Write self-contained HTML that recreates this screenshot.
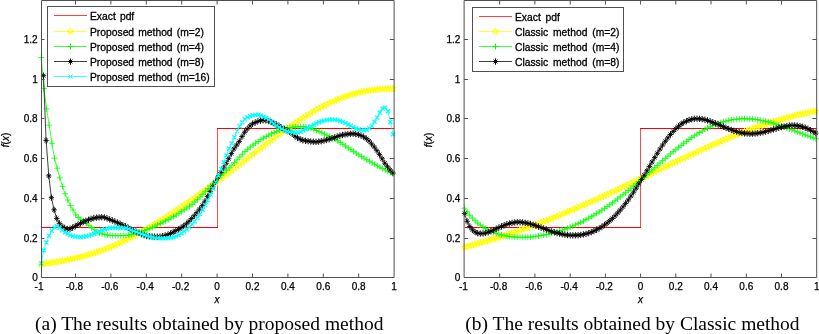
<!DOCTYPE html>
<html><head><meta charset="utf-8"><title>Figure</title>
<style>html,body{margin:0;padding:0;background:#fff;}svg{display:block;}</style>
</head><body>
<svg width="819" height="334" viewBox="0 0 819 334">
<rect width="819" height="334" fill="#fff"/>
<clipPath id="cl"><rect x="37.5" y="0" width="360.8" height="281.5"/></clipPath>
<g clip-path="url(#cl)">
<path d="M41.5 227.5H218.0M217.0 128.5H394.1" fill="none" stroke="#f00" stroke-width="1" shape-rendering="crispEdges"/><path d="M217.5 128V228" fill="none" stroke="#f00" stroke-opacity="0.7" stroke-width="1" shape-rendering="crispEdges"/>
<path d="M41.2 264.4L43.8 264.0L46.5 263.6L49.1 263.2L51.8 262.7L54.4 262.3L57.1 261.8L59.7 261.4L62.4 260.9L65.0 260.4L67.7 259.8L70.3 259.3L73.0 258.7L75.6 258.1L78.2 257.5L80.9 256.8L83.5 256.2L86.2 255.4L88.8 254.7L91.5 253.9L94.1 253.1L96.8 252.2L99.4 251.3L102.1 250.4L104.7 249.4L107.4 248.3L110.0 247.3L112.6 246.2L115.3 245.0L117.9 243.8L120.6 242.6L123.2 241.3L125.9 240.1L128.5 238.7L131.2 237.4L133.8 236.0L136.5 234.6L139.1 233.1L141.7 231.7L144.4 230.2L147.0 228.6L149.7 227.1L152.3 225.5L155.0 223.9L157.6 222.3L160.3 220.7L162.9 219.0L165.6 217.3L168.2 215.6L170.9 213.9L173.5 212.2L176.1 210.4L178.8 208.6L181.4 206.9L184.1 205.1L186.7 203.2L189.4 201.4L192.0 199.5L194.7 197.7L197.3 195.8L200.0 193.9L202.6 192.0L205.3 190.1L207.9 188.2L210.5 186.2L213.2 184.3L215.8 182.3L218.5 180.4L221.1 178.4L223.8 176.4L226.4 174.4L229.1 172.4L231.7 170.4L234.4 168.4L237.0 166.4L239.7 164.4L242.3 162.4L244.9 160.3L247.6 158.3L250.2 156.3L252.9 154.3L255.5 152.2L258.2 150.2L260.8 148.2L263.5 146.1L266.1 144.1L268.8 142.1L271.4 140.1L274.0 138.1L276.7 136.2L279.3 134.2L282.0 132.3L284.6 130.4L287.3 128.5L289.9 126.6L292.6 124.8L295.2 123.0L297.9 121.2L300.5 119.5L303.2 117.7L305.8 116.1L308.4 114.4L311.1 112.8L313.7 111.3L316.4 109.8L319.0 108.3L321.7 106.9L324.3 105.5L327.0 104.2L329.6 102.9L332.3 101.7L334.9 100.6L337.6 99.5L340.2 98.4L342.8 97.5L345.5 96.5L348.1 95.7L350.8 94.8L353.4 94.1L356.1 93.4L358.7 92.7L361.4 92.1L364.0 91.5L366.7 91.0L369.3 90.6L372.0 90.2L374.6 89.8L377.2 89.5L379.9 89.3L382.5 89.1L385.2 88.9L387.8 88.8L390.5 88.8L393.1 88.8" fill="none" stroke="#ff0" stroke-width="1" stroke-opacity="0.75"/>
<path d="M41.2 261.0L42.0 263.4L44.4 263.4L42.4 264.8L43.2 267.2L41.2 265.7L39.2 267.2L40.0 264.8L38.0 263.4L40.4 263.4ZM43.8 260.6L44.6 262.9L47.1 262.9L45.1 264.4L45.8 266.7L43.8 265.3L41.8 266.7L42.6 264.4L40.6 262.9L43.1 262.9ZM46.5 260.2L47.3 262.5L49.7 262.5L47.7 264.0L48.5 266.3L46.5 264.9L44.5 266.3L45.3 264.0L43.3 262.5L45.7 262.5ZM49.1 259.8L49.9 262.1L52.4 262.1L50.4 263.6L51.1 265.9L49.1 264.5L47.1 265.9L47.9 263.6L45.9 262.1L48.4 262.1ZM51.8 259.3L52.5 261.7L55.0 261.7L53.0 263.1L53.8 265.5L51.8 264.0L49.8 265.5L50.5 263.1L48.6 261.7L51.0 261.7ZM54.4 258.9L55.2 261.2L57.7 261.2L55.7 262.7L56.4 265.0L54.4 263.6L52.4 265.0L53.2 262.7L51.2 261.2L53.7 261.2ZM57.1 258.4L57.8 260.8L60.3 260.8L58.3 262.2L59.1 264.6L57.1 263.1L55.1 264.6L55.8 262.2L53.8 260.8L56.3 260.8ZM59.7 258.0L60.5 260.3L63.0 260.3L61.0 261.8L61.7 264.1L59.7 262.7L57.7 264.1L58.5 261.8L56.5 260.3L59.0 260.3ZM62.4 257.5L63.1 259.8L65.6 259.8L63.6 261.3L64.4 263.6L62.4 262.2L60.4 263.6L61.1 261.3L59.1 259.8L61.6 259.8ZM65.0 257.0L65.8 259.3L68.2 259.3L66.2 260.8L67.0 263.1L65.0 261.7L63.0 263.1L63.8 260.8L61.8 259.3L64.3 259.3ZM67.7 256.4L68.4 258.8L70.9 258.8L68.9 260.2L69.7 262.6L67.7 261.1L65.7 262.6L66.4 260.2L64.4 258.8L66.9 258.8ZM70.3 255.9L71.1 258.2L73.5 258.2L71.5 259.7L72.3 262.0L70.3 260.6L68.3 262.0L69.1 259.7L67.1 258.2L69.5 258.2ZM73.0 255.3L73.7 257.7L76.2 257.7L74.2 259.1L75.0 261.5L73.0 260.0L71.0 261.5L71.7 259.1L69.7 257.7L72.2 257.7ZM75.6 254.7L76.4 257.1L78.8 257.1L76.8 258.5L77.6 260.9L75.6 259.4L73.6 260.9L74.4 258.5L72.4 257.1L74.8 257.1ZM78.2 254.1L79.0 256.4L81.5 256.4L79.5 257.9L80.2 260.2L78.2 258.8L76.2 260.2L77.0 257.9L75.0 256.4L77.5 256.4ZM80.9 253.4L81.7 255.8L84.1 255.8L82.1 257.2L82.9 259.6L80.9 258.1L78.9 259.6L79.7 257.2L77.7 255.8L80.1 255.8ZM83.5 252.8L84.3 255.1L86.8 255.1L84.8 256.6L85.5 258.9L83.5 257.5L81.5 258.9L82.3 256.6L80.3 255.1L82.8 255.1ZM86.2 252.0L86.9 254.4L89.4 254.4L87.4 255.8L88.2 258.2L86.2 256.7L84.2 258.2L84.9 255.8L82.9 254.4L85.4 254.4ZM88.8 251.3L89.6 253.6L92.1 253.6L90.1 255.1L90.8 257.4L88.8 256.0L86.8 257.4L87.6 255.1L85.6 253.6L88.1 253.6ZM91.5 250.5L92.2 252.9L94.7 252.9L92.7 254.3L93.5 256.7L91.5 255.2L89.5 256.7L90.2 254.3L88.2 252.9L90.7 252.9ZM94.1 249.7L94.9 252.0L97.4 252.0L95.4 253.5L96.1 255.8L94.1 254.4L92.1 255.8L92.9 253.5L90.9 252.0L93.4 252.0ZM96.8 248.8L97.5 251.2L100.0 251.2L98.0 252.6L98.8 255.0L96.8 253.5L94.8 255.0L95.5 252.6L93.5 251.2L96.0 251.2ZM99.4 247.9L100.2 250.3L102.6 250.3L100.6 251.7L101.4 254.1L99.4 252.6L97.4 254.1L98.2 251.7L96.2 250.3L98.6 250.3ZM102.1 247.0L102.8 249.3L105.3 249.3L103.3 250.8L104.1 253.1L102.1 251.7L100.1 253.1L100.8 250.8L98.8 249.3L101.3 249.3ZM104.7 246.0L105.5 248.3L107.9 248.3L105.9 249.8L106.7 252.1L104.7 250.7L102.7 252.1L103.5 249.8L101.5 248.3L103.9 248.3ZM107.4 244.9L108.1 247.3L110.6 247.3L108.6 248.7L109.3 251.1L107.4 249.6L105.4 251.1L106.1 248.7L104.1 247.3L106.6 247.3ZM110.0 243.9L110.8 246.2L113.2 246.2L111.2 247.7L112.0 250.0L110.0 248.6L108.0 250.0L108.8 247.7L106.8 246.2L109.2 246.2ZM112.6 242.8L113.4 245.1L115.9 245.1L113.9 246.6L114.6 248.9L112.6 247.5L110.6 248.9L111.4 246.6L109.4 245.1L111.9 245.1ZM115.3 241.6L116.1 244.0L118.5 244.0L116.5 245.4L117.3 247.8L115.3 246.3L113.3 247.8L114.1 245.4L112.1 244.0L114.5 244.0ZM117.9 240.4L118.7 242.8L121.2 242.8L119.2 244.2L119.9 246.6L117.9 245.1L115.9 246.6L116.7 244.2L114.7 242.8L117.2 242.8ZM120.6 239.2L121.3 241.6L123.8 241.6L121.8 243.0L122.6 245.4L120.6 243.9L118.6 245.4L119.3 243.0L117.3 241.6L119.8 241.6ZM123.2 237.9L124.0 240.3L126.5 240.3L124.5 241.8L125.2 244.1L123.2 242.6L121.2 244.1L122.0 241.8L120.0 240.3L122.5 240.3ZM125.9 236.7L126.6 239.0L129.1 239.0L127.1 240.5L127.9 242.8L125.9 241.4L123.9 242.8L124.6 240.5L122.6 239.0L125.1 239.0ZM128.5 235.3L129.3 237.7L131.8 237.7L129.8 239.1L130.5 241.5L128.5 240.0L126.5 241.5L127.3 239.1L125.3 237.7L127.8 237.7ZM131.2 234.0L131.9 236.3L134.4 236.3L132.4 237.8L133.2 240.1L131.2 238.7L129.2 240.1L129.9 237.8L127.9 236.3L130.4 236.3ZM133.8 232.6L134.6 234.9L137.0 234.9L135.0 236.4L135.8 238.7L133.8 237.3L131.8 238.7L132.6 236.4L130.6 234.9L133.0 234.9ZM136.5 231.2L137.2 233.5L139.7 233.5L137.7 235.0L138.5 237.3L136.5 235.9L134.5 237.3L135.2 235.0L133.2 233.5L135.7 233.5ZM139.1 229.7L139.9 232.1L142.3 232.1L140.3 233.5L141.1 235.9L139.1 234.4L137.1 235.9L137.9 233.5L135.9 232.1L138.3 232.1ZM141.7 228.3L142.5 230.6L145.0 230.6L143.0 232.1L143.7 234.4L141.7 233.0L139.7 234.4L140.5 232.1L138.5 230.6L141.0 230.6ZM144.4 226.8L145.2 229.1L147.6 229.1L145.6 230.6L146.4 232.9L144.4 231.5L142.4 232.9L143.2 230.6L141.2 229.1L143.6 229.1ZM147.0 225.2L147.8 227.6L150.3 227.6L148.3 229.0L149.0 231.4L147.0 229.9L145.0 231.4L145.8 229.0L143.8 227.6L146.3 227.6ZM149.7 223.7L150.4 226.0L152.9 226.0L150.9 227.5L151.7 229.8L149.7 228.4L147.7 229.8L148.5 227.5L146.5 226.0L148.9 226.0ZM152.3 222.1L153.1 224.5L155.6 224.5L153.6 225.9L154.3 228.3L152.3 226.8L150.3 228.3L151.1 225.9L149.1 224.5L151.6 224.5ZM155.0 220.5L155.7 222.9L158.2 222.9L156.2 224.3L157.0 226.7L155.0 225.2L153.0 226.7L153.7 224.3L151.7 222.9L154.2 222.9ZM157.6 218.9L158.4 221.3L160.9 221.3L158.9 222.7L159.6 225.1L157.6 223.6L155.6 225.1L156.4 222.7L154.4 221.3L156.9 221.3ZM160.3 217.3L161.0 219.6L163.5 219.6L161.5 221.1L162.3 223.4L160.3 222.0L158.3 223.4L159.0 221.1L157.0 219.6L159.5 219.6ZM162.9 215.6L163.7 218.0L166.1 218.0L164.2 219.4L164.9 221.8L162.9 220.3L160.9 221.8L161.7 219.4L159.7 218.0L162.2 218.0ZM165.6 213.9L166.3 216.3L168.8 216.3L166.8 217.7L167.6 220.1L165.6 218.6L163.6 220.1L164.3 217.7L162.3 216.3L164.8 216.3ZM168.2 212.2L169.0 214.6L171.4 214.6L169.4 216.0L170.2 218.4L168.2 216.9L166.2 218.4L167.0 216.0L165.0 214.6L167.4 214.6ZM170.9 210.5L171.6 212.9L174.1 212.9L172.1 214.3L172.9 216.7L170.9 215.2L168.9 216.7L169.6 214.3L167.6 212.9L170.1 212.9ZM173.5 208.8L174.3 211.1L176.7 211.1L174.7 212.6L175.5 214.9L173.5 213.5L171.5 214.9L172.3 212.6L170.3 211.1L172.7 211.1ZM176.1 207.0L176.9 209.4L179.4 209.4L177.4 210.8L178.1 213.2L176.1 211.7L174.1 213.2L174.9 210.8L172.9 209.4L175.4 209.4ZM178.8 205.2L179.6 207.6L182.0 207.6L180.0 209.1L180.8 211.4L178.8 209.9L176.8 211.4L177.6 209.1L175.6 207.6L178.0 207.6ZM181.4 203.5L182.2 205.8L184.7 205.8L182.7 207.3L183.4 209.6L181.4 208.2L179.4 209.6L180.2 207.3L178.2 205.8L180.7 205.8ZM184.1 201.7L184.8 204.0L187.3 204.0L185.3 205.5L186.1 207.8L184.1 206.4L182.1 207.8L182.8 205.5L180.9 204.0L183.3 204.0ZM186.7 199.8L187.5 202.2L190.0 202.2L188.0 203.6L188.7 206.0L186.7 204.5L184.7 206.0L185.5 203.6L183.5 202.2L186.0 202.2ZM189.4 198.0L190.1 200.3L192.6 200.3L190.6 201.8L191.4 204.1L189.4 202.7L187.4 204.1L188.1 201.8L186.1 200.3L188.6 200.3ZM192.0 196.1L192.8 198.5L195.3 198.5L193.3 199.9L194.0 202.3L192.0 200.8L190.0 202.3L190.8 199.9L188.8 198.5L191.3 198.5ZM194.7 194.3L195.4 196.6L197.9 196.6L195.9 198.1L196.7 200.4L194.7 199.0L192.7 200.4L193.4 198.1L191.4 196.6L193.9 196.6ZM197.3 192.4L198.1 194.7L200.5 194.7L198.5 196.2L199.3 198.6L197.3 197.1L195.3 198.6L196.1 196.2L194.1 194.7L196.6 194.7ZM200.0 190.5L200.7 192.9L203.2 192.9L201.2 194.3L202.0 196.7L200.0 195.2L198.0 196.7L198.7 194.3L196.7 192.9L199.2 192.9ZM202.6 188.6L203.4 191.0L205.8 191.0L203.8 192.4L204.6 194.8L202.6 193.3L200.6 194.8L201.4 192.4L199.4 191.0L201.8 191.0ZM205.3 186.7L206.0 189.0L208.5 189.0L206.5 190.5L207.3 192.8L205.3 191.4L203.3 192.8L204.0 190.5L202.0 189.0L204.5 189.0ZM207.9 184.8L208.7 187.1L211.1 187.1L209.1 188.6L209.9 190.9L207.9 189.5L205.9 190.9L206.7 188.6L204.7 187.1L207.1 187.1ZM210.5 182.8L211.3 185.2L213.8 185.2L211.8 186.6L212.5 189.0L210.5 187.5L208.5 189.0L209.3 186.6L207.3 185.2L209.8 185.2ZM213.2 180.9L214.0 183.2L216.4 183.2L214.4 184.7L215.2 187.0L213.2 185.6L211.2 187.0L212.0 184.7L210.0 183.2L212.4 183.2ZM215.8 178.9L216.6 181.3L219.1 181.3L217.1 182.7L217.8 185.1L215.8 183.6L213.8 185.1L214.6 182.7L212.6 181.3L215.1 181.3ZM218.5 177.0L219.2 179.3L221.7 179.3L219.7 180.8L220.5 183.1L218.5 181.7L216.5 183.1L217.2 180.8L215.2 179.3L217.7 179.3ZM221.1 175.0L221.9 177.3L224.4 177.3L222.4 178.8L223.1 181.1L221.1 179.7L219.1 181.1L219.9 178.8L217.9 177.3L220.4 177.3ZM223.8 173.0L224.5 175.3L227.0 175.3L225.0 176.8L225.8 179.1L223.8 177.7L221.8 179.1L222.5 176.8L220.5 175.3L223.0 175.3ZM226.4 171.0L227.2 173.4L229.7 173.4L227.7 174.8L228.4 177.2L226.4 175.7L224.4 177.2L225.2 174.8L223.2 173.4L225.7 173.4ZM229.1 169.0L229.8 171.4L232.3 171.4L230.3 172.8L231.1 175.2L229.1 173.7L227.1 175.2L227.8 172.8L225.8 171.4L228.3 171.4ZM231.7 167.0L232.5 169.4L234.9 169.4L232.9 170.8L233.7 173.2L231.7 171.7L229.7 173.2L230.5 170.8L228.5 169.4L230.9 169.4ZM234.4 165.0L235.1 167.4L237.6 167.4L235.6 168.8L236.4 171.2L234.4 169.7L232.4 171.2L233.1 168.8L231.1 167.4L233.6 167.4ZM237.0 163.0L237.8 165.3L240.2 165.3L238.2 166.8L239.0 169.1L237.0 167.7L235.0 169.1L235.8 166.8L233.8 165.3L236.2 165.3ZM239.7 161.0L240.4 163.3L242.9 163.3L240.9 164.8L241.6 167.1L239.7 165.7L237.7 167.1L238.4 164.8L236.4 163.3L238.9 163.3ZM242.3 159.0L243.1 161.3L245.5 161.3L243.5 162.8L244.3 165.1L242.3 163.7L240.3 165.1L241.1 162.8L239.1 161.3L241.5 161.3ZM244.9 156.9L245.7 159.3L248.2 159.3L246.2 160.7L246.9 163.1L244.9 161.6L242.9 163.1L243.7 160.7L241.7 159.3L244.2 159.3ZM247.6 154.9L248.4 157.3L250.8 157.3L248.8 158.7L249.6 161.1L247.6 159.6L245.6 161.1L246.4 158.7L244.4 157.3L246.8 157.3ZM250.2 152.9L251.0 155.2L253.5 155.2L251.5 156.7L252.2 159.0L250.2 157.6L248.2 159.0L249.0 156.7L247.0 155.2L249.5 155.2ZM252.9 150.9L253.6 153.2L256.1 153.2L254.1 154.7L254.9 157.0L252.9 155.6L250.9 157.0L251.6 154.7L249.6 153.2L252.1 153.2ZM255.5 148.8L256.3 151.2L258.8 151.2L256.8 152.6L257.5 155.0L255.5 153.5L253.5 155.0L254.3 152.6L252.3 151.2L254.8 151.2ZM258.2 146.8L258.9 149.1L261.4 149.1L259.4 150.6L260.2 152.9L258.2 151.5L256.2 152.9L256.9 150.6L254.9 149.1L257.4 149.1ZM260.8 144.8L261.6 147.1L264.1 147.1L262.1 148.6L262.8 150.9L260.8 149.5L258.8 150.9L259.6 148.6L257.6 147.1L260.1 147.1ZM263.5 142.7L264.2 145.1L266.7 145.1L264.7 146.5L265.5 148.9L263.5 147.4L261.5 148.9L262.2 146.5L260.2 145.1L262.7 145.1ZM266.1 140.7L266.9 143.1L269.3 143.1L267.3 144.5L268.1 146.9L266.1 145.4L264.1 146.9L264.9 144.5L262.9 143.1L265.3 143.1ZM268.8 138.7L269.5 141.1L272.0 141.1L270.0 142.5L270.8 144.9L268.8 143.4L266.8 144.9L267.5 142.5L265.5 141.1L268.0 141.1ZM271.4 136.7L272.2 139.1L274.6 139.1L272.6 140.5L273.4 142.9L271.4 141.4L269.4 142.9L270.2 140.5L268.2 139.1L270.6 139.1ZM274.0 134.7L274.8 137.1L277.3 137.1L275.3 138.6L276.0 140.9L274.0 139.4L272.0 140.9L272.8 138.6L270.8 137.1L273.3 137.1ZM276.7 132.8L277.5 135.1L279.9 135.1L277.9 136.6L278.7 138.9L276.7 137.5L274.7 138.9L275.5 136.6L273.5 135.1L275.9 135.1ZM279.3 130.8L280.1 133.2L282.6 133.2L280.6 134.6L281.3 137.0L279.3 135.5L277.3 137.0L278.1 134.6L276.1 133.2L278.6 133.2ZM282.0 128.9L282.7 131.2L285.2 131.2L283.2 132.7L284.0 135.0L282.0 133.6L280.0 135.0L280.8 132.7L278.8 131.2L281.2 131.2ZM284.6 127.0L285.4 129.3L287.9 129.3L285.9 130.8L286.6 133.1L284.6 131.7L282.6 133.1L283.4 130.8L281.4 129.3L283.9 129.3ZM287.3 125.1L288.0 127.4L290.5 127.4L288.5 128.9L289.3 131.2L287.3 129.8L285.3 131.2L286.0 128.9L284.0 127.4L286.5 127.4ZM289.9 123.2L290.7 125.6L293.2 125.6L291.2 127.0L291.9 129.4L289.9 127.9L287.9 129.4L288.7 127.0L286.7 125.6L289.2 125.6ZM292.6 121.4L293.3 123.7L295.8 123.7L293.8 125.2L294.6 127.5L292.6 126.1L290.6 127.5L291.3 125.2L289.3 123.7L291.8 123.7ZM295.2 119.6L296.0 121.9L298.4 121.9L296.5 123.4L297.2 125.7L295.2 124.3L293.2 125.7L294.0 123.4L292.0 121.9L294.5 121.9ZM297.9 117.8L298.6 120.2L301.1 120.2L299.1 121.6L299.9 124.0L297.9 122.5L295.9 124.0L296.6 121.6L294.6 120.2L297.1 120.2ZM300.5 116.1L301.3 118.4L303.7 118.4L301.7 119.9L302.5 122.2L300.5 120.8L298.5 122.2L299.3 119.9L297.3 118.4L299.7 118.4ZM303.2 114.3L303.9 116.7L306.4 116.7L304.4 118.1L305.2 120.5L303.2 119.0L301.2 120.5L301.9 118.1L299.9 116.7L302.4 116.7ZM305.8 112.7L306.6 115.0L309.0 115.0L307.0 116.5L307.8 118.8L305.8 117.4L303.8 118.8L304.6 116.5L302.6 115.0L305.0 115.0ZM308.4 111.0L309.2 113.4L311.7 113.4L309.7 114.8L310.4 117.2L308.4 115.7L306.4 117.2L307.2 114.8L305.2 113.4L307.7 113.4ZM311.1 109.4L311.9 111.8L314.3 111.8L312.3 113.2L313.1 115.6L311.1 114.1L309.1 115.6L309.9 113.2L307.9 111.8L310.3 111.8ZM313.7 107.9L314.5 110.2L317.0 110.2L315.0 111.7L315.7 114.0L313.7 112.6L311.7 114.0L312.5 111.7L310.5 110.2L313.0 110.2ZM316.4 106.4L317.1 108.7L319.6 108.7L317.6 110.2L318.4 112.5L316.4 111.1L314.4 112.5L315.1 110.2L313.2 108.7L315.6 108.7ZM319.0 104.9L319.8 107.2L322.3 107.2L320.3 108.7L321.0 111.0L319.0 109.6L317.0 111.0L317.8 108.7L315.8 107.2L318.3 107.2ZM321.7 103.5L322.4 105.8L324.9 105.8L322.9 107.3L323.7 109.6L321.7 108.2L319.7 109.6L320.4 107.3L318.4 105.8L320.9 105.8ZM324.3 102.1L325.1 104.5L327.6 104.5L325.6 105.9L326.3 108.3L324.3 106.8L322.3 108.3L323.1 105.9L321.1 104.5L323.6 104.5ZM327.0 100.8L327.7 103.1L330.2 103.1L328.2 104.6L329.0 106.9L327.0 105.5L325.0 106.9L325.7 104.6L323.7 103.1L326.2 103.1ZM329.6 99.5L330.4 101.9L332.8 101.9L330.8 103.3L331.6 105.7L329.6 104.2L327.6 105.7L328.4 103.3L326.4 101.9L328.9 101.9ZM332.3 98.3L333.0 100.7L335.5 100.7L333.5 102.1L334.3 104.5L332.3 103.0L330.3 104.5L331.0 102.1L329.0 100.7L331.5 100.7ZM334.9 97.2L335.7 99.5L338.1 99.5L336.1 101.0L336.9 103.3L334.9 101.9L332.9 103.3L333.7 101.0L331.7 99.5L334.1 99.5ZM337.6 96.1L338.3 98.4L340.8 98.4L338.8 99.9L339.6 102.2L337.6 100.8L335.6 102.2L336.3 99.9L334.3 98.4L336.8 98.4ZM340.2 95.0L341.0 97.4L343.4 97.4L341.4 98.8L342.2 101.2L340.2 99.7L338.2 101.2L339.0 98.8L337.0 97.4L339.4 97.4ZM342.8 94.1L343.6 96.4L346.1 96.4L344.1 97.9L344.8 100.2L342.8 98.8L340.8 100.2L341.6 97.9L339.6 96.4L342.1 96.4ZM345.5 93.1L346.3 95.5L348.7 95.5L346.7 96.9L347.5 99.3L345.5 97.8L343.5 99.3L344.3 96.9L342.3 95.5L344.7 95.5ZM348.1 92.3L348.9 94.6L351.4 94.6L349.4 96.1L350.1 98.4L348.1 96.9L346.1 98.4L346.9 96.1L344.9 94.6L347.4 94.6ZM350.8 91.4L351.5 93.8L354.0 93.8L352.0 95.2L352.8 97.6L350.8 96.1L348.8 97.6L349.5 95.2L347.5 93.8L350.0 93.8ZM353.4 90.7L354.2 93.0L356.7 93.0L354.7 94.5L355.4 96.8L353.4 95.4L351.4 96.8L352.2 94.5L350.2 93.0L352.7 93.0ZM356.1 90.0L356.8 92.3L359.3 92.3L357.3 93.8L358.1 96.1L356.1 94.7L354.1 96.1L354.8 93.8L352.8 92.3L355.3 92.3ZM358.7 89.3L359.5 91.6L362.0 91.6L360.0 93.1L360.7 95.4L358.7 94.0L356.7 95.4L357.5 93.1L355.5 91.6L358.0 91.6ZM361.4 88.7L362.1 91.0L364.6 91.0L362.6 92.5L363.4 94.8L361.4 93.4L359.4 94.8L360.1 92.5L358.1 91.0L360.6 91.0ZM364.0 88.1L364.8 90.5L367.2 90.5L365.2 91.9L366.0 94.3L364.0 92.8L362.0 94.3L362.8 91.9L360.8 90.5L363.2 90.5ZM366.7 87.6L367.4 90.0L369.9 90.0L367.9 91.4L368.7 93.8L366.7 92.3L364.7 93.8L365.4 91.4L363.4 90.0L365.9 90.0ZM369.3 87.2L370.1 89.5L372.5 89.5L370.5 91.0L371.3 93.3L369.3 91.9L367.3 93.3L368.1 91.0L366.1 89.5L368.5 89.5ZM372.0 86.8L372.7 89.1L375.2 89.1L373.2 90.6L373.9 92.9L372.0 91.5L370.0 92.9L370.7 90.6L368.7 89.1L371.2 89.1ZM374.6 86.4L375.4 88.8L377.8 88.8L375.8 90.2L376.6 92.6L374.6 91.1L372.6 92.6L373.4 90.2L371.4 88.8L373.8 88.8ZM377.2 86.1L378.0 88.5L380.5 88.5L378.5 89.9L379.2 92.3L377.2 90.8L375.2 92.3L376.0 89.9L374.0 88.5L376.5 88.5ZM379.9 85.9L380.7 88.2L383.1 88.2L381.1 89.7L381.9 92.0L379.9 90.6L377.9 92.0L378.7 89.7L376.7 88.2L379.1 88.2ZM382.5 85.7L383.3 88.0L385.8 88.0L383.8 89.5L384.5 91.8L382.5 90.4L380.5 91.8L381.3 89.5L379.3 88.0L381.8 88.0ZM385.2 85.5L385.9 87.9L388.4 87.9L386.4 89.3L387.2 91.7L385.2 90.2L383.2 91.7L383.9 89.3L381.9 87.9L384.4 87.9ZM387.8 85.4L388.6 87.8L391.1 87.8L389.1 89.2L389.8 91.6L387.8 90.1L385.8 91.6L386.6 89.2L384.6 87.8L387.1 87.8ZM390.5 85.4L391.2 87.7L393.7 87.7L391.7 89.2L392.5 91.5L390.5 90.1L388.5 91.5L389.2 89.2L387.2 87.7L389.7 87.7ZM393.1 85.4L393.9 87.7L396.4 87.7L394.4 89.2L395.1 91.5L393.1 90.1L391.1 91.5L391.9 89.2L389.9 87.7L392.4 87.7Z" fill="none" stroke="#ff0" stroke-width="1"/>
<path d="M41.3 57.5L43.9 88.6L46.6 108.9L49.2 125.2L51.9 143.3L54.5 158.2L57.2 168.2L59.8 177.9L62.5 186.4L65.1 193.8L67.8 200.0L70.4 205.6L73.1 210.1L75.7 214.8L78.3 217.5L81.0 219.3L83.6 221.2L86.3 223.4L88.9 225.6L91.6 227.6L94.2 229.6L96.9 231.6L99.5 233.0L102.2 233.9L104.8 234.6L107.5 235.1L110.1 235.4L112.7 235.5L115.4 235.6L118.0 235.6L120.7 235.6L123.3 235.5L126.0 235.4L128.6 235.1L131.3 234.6L133.9 233.9L136.6 233.2L139.2 232.4L141.8 231.6L144.5 230.6L147.1 229.6L149.8 228.5L152.4 227.3L155.1 226.1L157.7 224.8L160.4 223.5L163.0 222.2L165.7 220.8L168.3 219.5L171.0 218.0L173.6 216.5L176.2 215.0L178.9 213.3L181.5 211.7L184.2 209.9L186.8 208.1L189.5 206.2L192.1 204.3L194.8 202.1L197.4 199.7L200.1 197.0L202.7 194.1L205.4 191.3L208.0 188.6L210.6 185.9L213.3 183.2L215.9 180.6L218.6 177.9L221.2 175.4L223.9 172.8L226.5 170.3L229.2 167.8L231.8 165.2L234.5 162.6L237.1 159.9L239.8 157.0L242.4 154.2L245.0 151.6L247.7 149.3L250.3 147.1L253.0 145.1L255.6 143.2L258.3 141.5L260.9 139.7L263.6 138.1L266.2 136.5L268.9 135.1L271.5 133.7L274.1 132.5L276.8 131.3L279.4 130.3L282.1 129.4L284.7 128.7L287.4 128.1L290.0 127.7L292.7 127.3L295.3 127.0L298.0 126.7L300.6 126.6L303.3 126.7L305.9 127.2L308.5 127.8L311.2 128.5L313.8 129.4L316.5 130.5L319.1 131.6L321.8 132.8L324.4 134.0L327.1 135.3L329.7 136.6L332.4 137.9L335.0 139.3L337.7 140.8L340.3 142.4L342.9 144.3L345.6 146.1L348.2 147.9L350.9 149.7L353.5 151.4L356.2 153.1L358.8 154.8L361.5 156.5L364.1 158.1L366.8 159.7L369.4 161.2L372.1 162.8L374.7 164.3L377.3 165.8L380.0 167.2L382.6 168.5L385.3 169.9L387.9 171.2L390.6 172.5L393.2 173.8" fill="none" stroke="#0f0" stroke-width="1" stroke-opacity="0.75"/>
<path d="M38.3 57.5h6.0M41.3 54.5v6.0M40.9 88.6h6.0M43.9 85.6v6.0M43.6 108.9h6.0M46.6 105.9v6.0M46.2 125.2h6.0M49.2 122.2v6.0M48.9 143.3h6.0M51.9 140.3v6.0M51.5 158.2h6.0M54.5 155.2v6.0M54.2 168.2h6.0M57.2 165.2v6.0M56.8 177.9h6.0M59.8 174.9v6.0M59.5 186.4h6.0M62.5 183.4v6.0M62.1 193.8h6.0M65.1 190.8v6.0M64.8 200.0h6.0M67.8 197.0v6.0M67.4 205.6h6.0M70.4 202.6v6.0M70.1 210.1h6.0M73.1 207.1v6.0M72.7 214.8h6.0M75.7 211.8v6.0M75.3 217.5h6.0M78.3 214.5v6.0M78.0 219.3h6.0M81.0 216.3v6.0M80.6 221.2h6.0M83.6 218.2v6.0M83.3 223.4h6.0M86.3 220.4v6.0M85.9 225.6h6.0M88.9 222.6v6.0M88.6 227.6h6.0M91.6 224.6v6.0M91.2 229.6h6.0M94.2 226.6v6.0M93.9 231.6h6.0M96.9 228.6v6.0M96.5 233.0h6.0M99.5 230.0v6.0M99.2 233.9h6.0M102.2 230.9v6.0M101.8 234.6h6.0M104.8 231.6v6.0M104.5 235.1h6.0M107.5 232.1v6.0M107.1 235.4h6.0M110.1 232.4v6.0M109.7 235.5h6.0M112.7 232.5v6.0M112.4 235.6h6.0M115.4 232.6v6.0M115.0 235.6h6.0M118.0 232.6v6.0M117.7 235.6h6.0M120.7 232.6v6.0M120.3 235.5h6.0M123.3 232.5v6.0M123.0 235.4h6.0M126.0 232.4v6.0M125.6 235.1h6.0M128.6 232.1v6.0M128.3 234.6h6.0M131.3 231.6v6.0M130.9 233.9h6.0M133.9 230.9v6.0M133.6 233.2h6.0M136.6 230.2v6.0M136.2 232.4h6.0M139.2 229.4v6.0M138.8 231.6h6.0M141.8 228.6v6.0M141.5 230.6h6.0M144.5 227.6v6.0M144.1 229.6h6.0M147.1 226.6v6.0M146.8 228.5h6.0M149.8 225.5v6.0M149.4 227.3h6.0M152.4 224.3v6.0M152.1 226.1h6.0M155.1 223.1v6.0M154.7 224.8h6.0M157.7 221.8v6.0M157.4 223.5h6.0M160.4 220.5v6.0M160.0 222.2h6.0M163.0 219.2v6.0M162.7 220.8h6.0M165.7 217.8v6.0M165.3 219.5h6.0M168.3 216.5v6.0M168.0 218.0h6.0M171.0 215.0v6.0M170.6 216.5h6.0M173.6 213.5v6.0M173.2 215.0h6.0M176.2 212.0v6.0M175.9 213.3h6.0M178.9 210.3v6.0M178.5 211.7h6.0M181.5 208.7v6.0M181.2 209.9h6.0M184.2 206.9v6.0M183.8 208.1h6.0M186.8 205.1v6.0M186.5 206.2h6.0M189.5 203.2v6.0M189.1 204.3h6.0M192.1 201.3v6.0M191.8 202.1h6.0M194.8 199.1v6.0M194.4 199.7h6.0M197.4 196.7v6.0M197.1 197.0h6.0M200.1 194.0v6.0M199.7 194.1h6.0M202.7 191.1v6.0M202.4 191.3h6.0M205.4 188.3v6.0M205.0 188.6h6.0M208.0 185.6v6.0M207.6 185.9h6.0M210.6 182.9v6.0M210.3 183.2h6.0M213.3 180.2v6.0M212.9 180.6h6.0M215.9 177.6v6.0M215.6 177.9h6.0M218.6 174.9v6.0M218.2 175.4h6.0M221.2 172.4v6.0M220.9 172.8h6.0M223.9 169.8v6.0M223.5 170.3h6.0M226.5 167.3v6.0M226.2 167.8h6.0M229.2 164.8v6.0M228.8 165.2h6.0M231.8 162.2v6.0M231.5 162.6h6.0M234.5 159.6v6.0M234.1 159.9h6.0M237.1 156.9v6.0M236.8 157.0h6.0M239.8 154.0v6.0M239.4 154.2h6.0M242.4 151.2v6.0M242.0 151.6h6.0M245.0 148.6v6.0M244.7 149.3h6.0M247.7 146.3v6.0M247.3 147.1h6.0M250.3 144.1v6.0M250.0 145.1h6.0M253.0 142.1v6.0M252.6 143.2h6.0M255.6 140.2v6.0M255.3 141.5h6.0M258.3 138.5v6.0M257.9 139.7h6.0M260.9 136.7v6.0M260.6 138.1h6.0M263.6 135.1v6.0M263.2 136.5h6.0M266.2 133.5v6.0M265.9 135.1h6.0M268.9 132.1v6.0M268.5 133.7h6.0M271.5 130.7v6.0M271.1 132.5h6.0M274.1 129.5v6.0M273.8 131.3h6.0M276.8 128.3v6.0M276.4 130.3h6.0M279.4 127.3v6.0M279.1 129.4h6.0M282.1 126.4v6.0M281.7 128.7h6.0M284.7 125.7v6.0M284.4 128.1h6.0M287.4 125.1v6.0M287.0 127.7h6.0M290.0 124.7v6.0M289.7 127.3h6.0M292.7 124.3v6.0M292.3 127.0h6.0M295.3 124.0v6.0M295.0 126.7h6.0M298.0 123.7v6.0M297.6 126.6h6.0M300.6 123.6v6.0M300.3 126.7h6.0M303.3 123.7v6.0M302.9 127.2h6.0M305.9 124.2v6.0M305.5 127.8h6.0M308.5 124.8v6.0M308.2 128.5h6.0M311.2 125.5v6.0M310.8 129.4h6.0M313.8 126.4v6.0M313.5 130.5h6.0M316.5 127.5v6.0M316.1 131.6h6.0M319.1 128.6v6.0M318.8 132.8h6.0M321.8 129.8v6.0M321.4 134.0h6.0M324.4 131.0v6.0M324.1 135.3h6.0M327.1 132.3v6.0M326.7 136.6h6.0M329.7 133.6v6.0M329.4 137.9h6.0M332.4 134.9v6.0M332.0 139.3h6.0M335.0 136.3v6.0M334.7 140.8h6.0M337.7 137.8v6.0M337.3 142.4h6.0M340.3 139.4v6.0M339.9 144.3h6.0M342.9 141.3v6.0M342.6 146.1h6.0M345.6 143.1v6.0M345.2 147.9h6.0M348.2 144.9v6.0M347.9 149.7h6.0M350.9 146.7v6.0M350.5 151.4h6.0M353.5 148.4v6.0M353.2 153.1h6.0M356.2 150.1v6.0M355.8 154.8h6.0M358.8 151.8v6.0M358.5 156.5h6.0M361.5 153.5v6.0M361.1 158.1h6.0M364.1 155.1v6.0M363.8 159.7h6.0M366.8 156.7v6.0M366.4 161.2h6.0M369.4 158.2v6.0M369.1 162.8h6.0M372.1 159.8v6.0M371.7 164.3h6.0M374.7 161.3v6.0M374.3 165.8h6.0M377.3 162.8v6.0M377.0 167.2h6.0M380.0 164.2v6.0M379.6 168.5h6.0M382.6 165.5v6.0M382.3 169.9h6.0M385.3 166.9v6.0M384.9 171.2h6.0M387.9 168.2v6.0M387.6 172.5h6.0M390.6 169.5v6.0M390.2 173.8h6.0M393.2 170.8v6.0" fill="none" stroke="#0f0" stroke-width="0.8"/>
<path d="M43.5 75.7L46.1 140.4L48.8 175.9L51.4 197.7L54.1 209.8L56.7 218.4L59.4 223.3L62.0 226.3L64.7 228.0L67.3 229.1L70.0 228.9L72.6 227.6L75.3 226.1L77.9 224.8L80.5 223.4L83.2 222.0L85.8 220.9L88.5 219.8L91.1 218.9L93.8 218.1L96.4 217.7L99.1 217.4L101.7 217.2L104.4 217.4L107.0 218.3L109.7 219.4L112.3 220.4L114.9 221.5L117.6 222.7L120.2 223.9L122.9 225.2L125.5 226.4L128.2 227.8L130.8 229.2L133.5 230.6L136.1 231.8L138.8 232.9L141.4 234.1L144.0 235.2L146.7 236.0L149.3 236.3L152.0 236.5L154.6 236.6L157.3 236.7L159.9 236.7L162.6 236.2L165.2 235.5L167.9 234.7L170.5 233.5L173.2 232.1L175.8 230.7L178.4 229.3L181.1 227.8L183.7 226.0L186.4 223.8L189.0 221.3L191.7 218.6L194.3 215.7L197.0 212.5L199.6 209.1L202.3 205.4L204.9 201.3L207.6 196.6L210.2 191.6L212.8 186.7L215.5 181.8L218.1 177.0L220.8 172.4L223.4 167.9L226.1 163.3L228.7 158.7L231.4 153.6L234.0 148.9L236.7 145.1L239.3 141.4L242.0 136.6L244.6 132.3L247.2 129.0L249.9 126.0L252.5 123.8L255.2 122.5L257.8 121.4L260.5 120.6L263.1 120.2L265.8 120.4L268.4 121.1L271.1 122.0L273.7 123.0L276.3 124.4L279.0 126.0L281.6 127.6L284.3 129.0L286.9 130.3L289.6 131.9L292.2 133.7L294.9 136.1L297.5 137.8L300.2 139.2L302.8 140.3L305.5 140.8L308.1 141.2L310.7 141.5L313.4 141.7L316.0 141.8L318.7 141.6L321.3 141.2L324.0 140.6L326.6 140.0L329.3 139.1L331.9 138.2L334.6 137.4L337.2 136.5L339.9 135.6L342.5 135.0L345.1 134.5L347.8 134.1L350.4 133.8L353.1 133.7L355.7 134.0L358.4 134.7L361.0 135.5L363.7 136.8L366.3 138.6L369.0 140.9L371.6 143.9L374.3 147.1L376.9 150.7L379.5 154.6L382.2 158.8L384.8 163.2L387.5 166.8L390.1 170.0L392.8 172.9" fill="none" stroke="#000" stroke-width="1" stroke-opacity="0.75"/>
<path d="M40.8 75.7h5.4M43.5 72.5v6.4M41.6 73.8l3.8 3.8M41.6 77.6l3.8 -3.8M43.4 140.4h5.4M46.1 137.2v6.4M44.2 138.5l3.8 3.8M44.2 142.3l3.8 -3.8M46.1 175.9h5.4M48.8 172.7v6.4M46.9 174.0l3.8 3.8M46.9 177.8l3.8 -3.8M48.7 197.7h5.4M51.4 194.5v6.4M49.5 195.8l3.8 3.8M49.5 199.6l3.8 -3.8M51.4 209.8h5.4M54.1 206.6v6.4M52.2 207.9l3.8 3.8M52.2 211.7l3.8 -3.8M54.0 218.4h5.4M56.7 215.2v6.4M54.8 216.5l3.8 3.8M54.8 220.3l3.8 -3.8M56.7 223.3h5.4M59.4 220.1v6.4M57.5 221.4l3.8 3.8M57.5 225.2l3.8 -3.8M59.3 226.3h5.4M62.0 223.1v6.4M60.1 224.4l3.8 3.8M60.1 228.2l3.8 -3.8M62.0 228.0h5.4M64.7 224.8v6.4M62.8 226.1l3.8 3.8M62.8 229.9l3.8 -3.8M64.6 229.1h5.4M67.3 225.9v6.4M65.4 227.2l3.8 3.8M65.4 231.0l3.8 -3.8M67.3 228.9h5.4M70.0 225.7v6.4M68.1 227.0l3.8 3.8M68.1 230.8l3.8 -3.8M69.9 227.6h5.4M72.6 224.4v6.4M70.7 225.7l3.8 3.8M70.7 229.5l3.8 -3.8M72.6 226.1h5.4M75.3 222.9v6.4M73.4 224.2l3.8 3.8M73.4 228.0l3.8 -3.8M75.2 224.8h5.4M77.9 221.6v6.4M76.0 222.9l3.8 3.8M76.0 226.7l3.8 -3.8M77.8 223.4h5.4M80.5 220.2v6.4M78.6 221.5l3.8 3.8M78.6 225.3l3.8 -3.8M80.5 222.0h5.4M83.2 218.8v6.4M81.3 220.1l3.8 3.8M81.3 223.9l3.8 -3.8M83.1 220.9h5.4M85.8 217.7v6.4M83.9 219.0l3.8 3.8M83.9 222.8l3.8 -3.8M85.8 219.8h5.4M88.5 216.6v6.4M86.6 217.9l3.8 3.8M86.6 221.7l3.8 -3.8M88.4 218.9h5.4M91.1 215.7v6.4M89.2 217.0l3.8 3.8M89.2 220.8l3.8 -3.8M91.1 218.1h5.4M93.8 214.9v6.4M91.9 216.2l3.8 3.8M91.9 220.0l3.8 -3.8M93.7 217.7h5.4M96.4 214.5v6.4M94.5 215.8l3.8 3.8M94.5 219.6l3.8 -3.8M96.4 217.4h5.4M99.1 214.2v6.4M97.2 215.5l3.8 3.8M97.2 219.3l3.8 -3.8M99.0 217.2h5.4M101.7 214.0v6.4M99.8 215.3l3.8 3.8M99.8 219.1l3.8 -3.8M101.7 217.4h5.4M104.4 214.2v6.4M102.5 215.5l3.8 3.8M102.5 219.3l3.8 -3.8M104.3 218.3h5.4M107.0 215.1v6.4M105.1 216.4l3.8 3.8M105.1 220.2l3.8 -3.8M107.0 219.4h5.4M109.7 216.2v6.4M107.8 217.5l3.8 3.8M107.8 221.3l3.8 -3.8M109.6 220.4h5.4M112.3 217.2v6.4M110.4 218.5l3.8 3.8M110.4 222.3l3.8 -3.8M112.2 221.5h5.4M114.9 218.3v6.4M113.0 219.6l3.8 3.8M113.0 223.4l3.8 -3.8M114.9 222.7h5.4M117.6 219.5v6.4M115.7 220.8l3.8 3.8M115.7 224.6l3.8 -3.8M117.5 223.9h5.4M120.2 220.7v6.4M118.3 222.0l3.8 3.8M118.3 225.8l3.8 -3.8M120.2 225.2h5.4M122.9 222.0v6.4M121.0 223.3l3.8 3.8M121.0 227.1l3.8 -3.8M122.8 226.4h5.4M125.5 223.2v6.4M123.6 224.5l3.8 3.8M123.6 228.3l3.8 -3.8M125.5 227.8h5.4M128.2 224.6v6.4M126.3 225.9l3.8 3.8M126.3 229.7l3.8 -3.8M128.1 229.2h5.4M130.8 226.0v6.4M128.9 227.3l3.8 3.8M128.9 231.1l3.8 -3.8M130.8 230.6h5.4M133.5 227.4v6.4M131.6 228.7l3.8 3.8M131.6 232.5l3.8 -3.8M133.4 231.8h5.4M136.1 228.6v6.4M134.2 229.9l3.8 3.8M134.2 233.7l3.8 -3.8M136.1 232.9h5.4M138.8 229.7v6.4M136.9 231.0l3.8 3.8M136.9 234.8l3.8 -3.8M138.7 234.1h5.4M141.4 230.9v6.4M139.5 232.2l3.8 3.8M139.5 236.0l3.8 -3.8M141.3 235.2h5.4M144.0 232.0v6.4M142.1 233.3l3.8 3.8M142.1 237.1l3.8 -3.8M144.0 236.0h5.4M146.7 232.8v6.4M144.8 234.1l3.8 3.8M144.8 237.9l3.8 -3.8M146.6 236.3h5.4M149.3 233.1v6.4M147.4 234.4l3.8 3.8M147.4 238.2l3.8 -3.8M149.3 236.5h5.4M152.0 233.3v6.4M150.1 234.6l3.8 3.8M150.1 238.4l3.8 -3.8M151.9 236.6h5.4M154.6 233.4v6.4M152.7 234.7l3.8 3.8M152.7 238.5l3.8 -3.8M154.6 236.7h5.4M157.3 233.5v6.4M155.4 234.8l3.8 3.8M155.4 238.6l3.8 -3.8M157.2 236.7h5.4M159.9 233.5v6.4M158.0 234.8l3.8 3.8M158.0 238.6l3.8 -3.8M159.9 236.2h5.4M162.6 233.0v6.4M160.7 234.3l3.8 3.8M160.7 238.1l3.8 -3.8M162.5 235.5h5.4M165.2 232.3v6.4M163.3 233.6l3.8 3.8M163.3 237.4l3.8 -3.8M165.2 234.7h5.4M167.9 231.5v6.4M166.0 232.8l3.8 3.8M166.0 236.6l3.8 -3.8M167.8 233.5h5.4M170.5 230.3v6.4M168.6 231.6l3.8 3.8M168.6 235.4l3.8 -3.8M170.5 232.1h5.4M173.2 228.9v6.4M171.3 230.2l3.8 3.8M171.3 234.0l3.8 -3.8M173.1 230.7h5.4M175.8 227.5v6.4M173.9 228.8l3.8 3.8M173.9 232.6l3.8 -3.8M175.7 229.3h5.4M178.4 226.1v6.4M176.5 227.4l3.8 3.8M176.5 231.2l3.8 -3.8M178.4 227.8h5.4M181.1 224.6v6.4M179.2 225.9l3.8 3.8M179.2 229.7l3.8 -3.8M181.0 226.0h5.4M183.7 222.8v6.4M181.8 224.1l3.8 3.8M181.8 227.9l3.8 -3.8M183.7 223.8h5.4M186.4 220.6v6.4M184.5 221.9l3.8 3.8M184.5 225.7l3.8 -3.8M186.3 221.3h5.4M189.0 218.1v6.4M187.1 219.4l3.8 3.8M187.1 223.2l3.8 -3.8M189.0 218.6h5.4M191.7 215.4v6.4M189.8 216.7l3.8 3.8M189.8 220.5l3.8 -3.8M191.6 215.7h5.4M194.3 212.5v6.4M192.4 213.8l3.8 3.8M192.4 217.6l3.8 -3.8M194.3 212.5h5.4M197.0 209.3v6.4M195.1 210.6l3.8 3.8M195.1 214.4l3.8 -3.8M196.9 209.1h5.4M199.6 205.9v6.4M197.7 207.2l3.8 3.8M197.7 211.0l3.8 -3.8M199.6 205.4h5.4M202.3 202.2v6.4M200.4 203.5l3.8 3.8M200.4 207.3l3.8 -3.8M202.2 201.3h5.4M204.9 198.1v6.4M203.0 199.4l3.8 3.8M203.0 203.2l3.8 -3.8M204.9 196.6h5.4M207.6 193.4v6.4M205.7 194.7l3.8 3.8M205.7 198.5l3.8 -3.8M207.5 191.6h5.4M210.2 188.4v6.4M208.3 189.7l3.8 3.8M208.3 193.5l3.8 -3.8M210.1 186.7h5.4M212.8 183.5v6.4M210.9 184.8l3.8 3.8M210.9 188.6l3.8 -3.8M212.8 181.8h5.4M215.5 178.6v6.4M213.6 179.9l3.8 3.8M213.6 183.7l3.8 -3.8M215.4 177.0h5.4M218.1 173.8v6.4M216.2 175.1l3.8 3.8M216.2 178.9l3.8 -3.8M218.1 172.4h5.4M220.8 169.2v6.4M218.9 170.5l3.8 3.8M218.9 174.3l3.8 -3.8M220.7 167.9h5.4M223.4 164.7v6.4M221.5 166.0l3.8 3.8M221.5 169.8l3.8 -3.8M223.4 163.3h5.4M226.1 160.1v6.4M224.2 161.4l3.8 3.8M224.2 165.2l3.8 -3.8M226.0 158.7h5.4M228.7 155.5v6.4M226.8 156.8l3.8 3.8M226.8 160.6l3.8 -3.8M228.7 153.6h5.4M231.4 150.4v6.4M229.5 151.7l3.8 3.8M229.5 155.5l3.8 -3.8M231.3 148.9h5.4M234.0 145.7v6.4M232.1 147.0l3.8 3.8M232.1 150.8l3.8 -3.8M234.0 145.1h5.4M236.7 141.9v6.4M234.8 143.2l3.8 3.8M234.8 147.0l3.8 -3.8M236.6 141.4h5.4M239.3 138.2v6.4M237.4 139.5l3.8 3.8M237.4 143.3l3.8 -3.8M239.3 136.6h5.4M242.0 133.4v6.4M240.1 134.7l3.8 3.8M240.1 138.5l3.8 -3.8M241.9 132.3h5.4M244.6 129.1v6.4M242.7 130.4l3.8 3.8M242.7 134.2l3.8 -3.8M244.5 129.0h5.4M247.2 125.8v6.4M245.3 127.1l3.8 3.8M245.3 130.9l3.8 -3.8M247.2 126.0h5.4M249.9 122.8v6.4M248.0 124.1l3.8 3.8M248.0 127.9l3.8 -3.8M249.8 123.8h5.4M252.5 120.6v6.4M250.6 121.9l3.8 3.8M250.6 125.7l3.8 -3.8M252.5 122.5h5.4M255.2 119.3v6.4M253.3 120.6l3.8 3.8M253.3 124.4l3.8 -3.8M255.1 121.4h5.4M257.8 118.2v6.4M255.9 119.5l3.8 3.8M255.9 123.3l3.8 -3.8M257.8 120.6h5.4M260.5 117.4v6.4M258.6 118.7l3.8 3.8M258.6 122.5l3.8 -3.8M260.4 120.2h5.4M263.1 117.0v6.4M261.2 118.3l3.8 3.8M261.2 122.1l3.8 -3.8M263.1 120.4h5.4M265.8 117.2v6.4M263.9 118.5l3.8 3.8M263.9 122.3l3.8 -3.8M265.7 121.1h5.4M268.4 117.9v6.4M266.5 119.2l3.8 3.8M266.5 123.0l3.8 -3.8M268.4 122.0h5.4M271.1 118.8v6.4M269.2 120.1l3.8 3.8M269.2 123.9l3.8 -3.8M271.0 123.0h5.4M273.7 119.8v6.4M271.8 121.1l3.8 3.8M271.8 124.9l3.8 -3.8M273.6 124.4h5.4M276.3 121.2v6.4M274.4 122.5l3.8 3.8M274.4 126.3l3.8 -3.8M276.3 126.0h5.4M279.0 122.8v6.4M277.1 124.1l3.8 3.8M277.1 127.9l3.8 -3.8M278.9 127.6h5.4M281.6 124.4v6.4M279.7 125.7l3.8 3.8M279.7 129.5l3.8 -3.8M281.6 129.0h5.4M284.3 125.8v6.4M282.4 127.1l3.8 3.8M282.4 130.9l3.8 -3.8M284.2 130.3h5.4M286.9 127.1v6.4M285.0 128.4l3.8 3.8M285.0 132.2l3.8 -3.8M286.9 131.9h5.4M289.6 128.7v6.4M287.7 130.0l3.8 3.8M287.7 133.8l3.8 -3.8M289.5 133.7h5.4M292.2 130.5v6.4M290.3 131.8l3.8 3.8M290.3 135.6l3.8 -3.8M292.2 136.1h5.4M294.9 132.9v6.4M293.0 134.2l3.8 3.8M293.0 138.0l3.8 -3.8M294.8 137.8h5.4M297.5 134.6v6.4M295.6 135.9l3.8 3.8M295.6 139.7l3.8 -3.8M297.5 139.2h5.4M300.2 136.0v6.4M298.3 137.3l3.8 3.8M298.3 141.1l3.8 -3.8M300.1 140.3h5.4M302.8 137.1v6.4M300.9 138.4l3.8 3.8M300.9 142.2l3.8 -3.8M302.8 140.8h5.4M305.5 137.6v6.4M303.6 138.9l3.8 3.8M303.6 142.7l3.8 -3.8M305.4 141.2h5.4M308.1 138.0v6.4M306.2 139.3l3.8 3.8M306.2 143.1l3.8 -3.8M308.0 141.5h5.4M310.7 138.3v6.4M308.8 139.6l3.8 3.8M308.8 143.4l3.8 -3.8M310.7 141.7h5.4M313.4 138.5v6.4M311.5 139.8l3.8 3.8M311.5 143.6l3.8 -3.8M313.3 141.8h5.4M316.0 138.6v6.4M314.1 139.9l3.8 3.8M314.1 143.7l3.8 -3.8M316.0 141.6h5.4M318.7 138.4v6.4M316.8 139.7l3.8 3.8M316.8 143.5l3.8 -3.8M318.6 141.2h5.4M321.3 138.0v6.4M319.4 139.3l3.8 3.8M319.4 143.1l3.8 -3.8M321.3 140.6h5.4M324.0 137.4v6.4M322.1 138.7l3.8 3.8M322.1 142.5l3.8 -3.8M323.9 140.0h5.4M326.6 136.8v6.4M324.7 138.1l3.8 3.8M324.7 141.9l3.8 -3.8M326.6 139.1h5.4M329.3 135.9v6.4M327.4 137.2l3.8 3.8M327.4 141.0l3.8 -3.8M329.2 138.2h5.4M331.9 135.0v6.4M330.0 136.3l3.8 3.8M330.0 140.1l3.8 -3.8M331.9 137.4h5.4M334.6 134.2v6.4M332.7 135.5l3.8 3.8M332.7 139.3l3.8 -3.8M334.5 136.5h5.4M337.2 133.3v6.4M335.3 134.6l3.8 3.8M335.3 138.4l3.8 -3.8M337.2 135.6h5.4M339.9 132.4v6.4M338.0 133.7l3.8 3.8M338.0 137.5l3.8 -3.8M339.8 135.0h5.4M342.5 131.8v6.4M340.6 133.1l3.8 3.8M340.6 136.9l3.8 -3.8M342.4 134.5h5.4M345.1 131.3v6.4M343.2 132.6l3.8 3.8M343.2 136.4l3.8 -3.8M345.1 134.1h5.4M347.8 130.9v6.4M345.9 132.2l3.8 3.8M345.9 136.0l3.8 -3.8M347.7 133.8h5.4M350.4 130.6v6.4M348.5 131.9l3.8 3.8M348.5 135.7l3.8 -3.8M350.4 133.7h5.4M353.1 130.5v6.4M351.2 131.8l3.8 3.8M351.2 135.6l3.8 -3.8M353.0 134.0h5.4M355.7 130.8v6.4M353.8 132.1l3.8 3.8M353.8 135.9l3.8 -3.8M355.7 134.7h5.4M358.4 131.5v6.4M356.5 132.8l3.8 3.8M356.5 136.6l3.8 -3.8M358.3 135.5h5.4M361.0 132.3v6.4M359.1 133.6l3.8 3.8M359.1 137.4l3.8 -3.8M361.0 136.8h5.4M363.7 133.6v6.4M361.8 134.9l3.8 3.8M361.8 138.7l3.8 -3.8M363.6 138.6h5.4M366.3 135.4v6.4M364.4 136.7l3.8 3.8M364.4 140.5l3.8 -3.8M366.3 140.9h5.4M369.0 137.7v6.4M367.1 139.0l3.8 3.8M367.1 142.8l3.8 -3.8M368.9 143.9h5.4M371.6 140.7v6.4M369.7 142.0l3.8 3.8M369.7 145.8l3.8 -3.8M371.6 147.1h5.4M374.3 143.9v6.4M372.4 145.2l3.8 3.8M372.4 149.0l3.8 -3.8M374.2 150.7h5.4M376.9 147.5v6.4M375.0 148.8l3.8 3.8M375.0 152.6l3.8 -3.8M376.8 154.6h5.4M379.5 151.4v6.4M377.6 152.7l3.8 3.8M377.6 156.5l3.8 -3.8M379.5 158.8h5.4M382.2 155.6v6.4M380.3 156.9l3.8 3.8M380.3 160.7l3.8 -3.8M382.1 163.2h5.4M384.8 160.0v6.4M382.9 161.3l3.8 3.8M382.9 165.1l3.8 -3.8M384.8 166.8h5.4M387.5 163.6v6.4M385.6 164.9l3.8 3.8M385.6 168.7l3.8 -3.8M387.4 170.0h5.4M390.1 166.8v6.4M388.2 168.1l3.8 3.8M388.2 171.9l3.8 -3.8M390.1 172.9h5.4M392.8 169.7v6.4M390.9 171.0l3.8 3.8M390.9 174.8l3.8 -3.8" fill="none" stroke="#000" stroke-width="0.9"/>
<path d="M41.2 263.4L43.8 250.5L46.5 242.5L49.1 235.7L51.8 230.8L54.4 227.6L57.1 226.3L59.7 227.6L62.4 230.3L65.0 232.3L67.7 233.9L70.3 235.1L73.0 235.9L75.6 236.6L78.2 237.0L80.9 237.1L83.5 236.7L86.2 236.2L88.8 235.7L91.5 234.8L94.1 233.7L96.8 232.6L99.4 231.3L102.1 230.0L104.7 229.1L107.4 228.4L110.0 227.9L112.6 227.7L115.3 227.6L117.9 227.6L120.6 227.7L123.2 227.8L125.9 228.1L128.5 228.8L131.2 229.8L133.8 230.9L136.5 232.0L139.1 232.9L141.7 234.0L144.4 235.0L147.0 235.8L149.7 236.5L152.3 237.1L155.0 237.7L157.6 238.1L160.3 238.3L162.9 238.3L165.6 238.2L168.2 238.1L170.9 237.9L173.5 237.4L176.1 236.4L178.8 235.1L181.4 233.3L184.1 231.3L186.7 229.3L189.4 227.1L192.0 224.5L194.7 221.4L197.3 218.0L200.0 214.2L202.6 209.9L205.3 205.1L207.9 200.1L210.5 194.6L213.2 188.6L215.8 182.2L218.5 175.6L221.1 169.0L223.8 162.2L226.4 155.3L229.1 148.7L231.7 143.3L234.4 137.3L237.0 131.1L239.7 126.4L242.3 122.2L244.9 119.1L247.6 117.4L250.2 116.2L252.9 115.4L255.5 114.9L258.2 114.9L260.8 115.6L263.5 116.7L266.1 117.9L268.8 119.6L271.4 121.6L274.0 123.7L276.7 125.6L279.3 127.2L282.0 128.9L284.6 130.3L287.3 131.4L289.9 132.0L292.6 132.4L295.2 132.7L297.9 132.5L300.5 131.7L303.2 130.4L305.8 129.2L308.4 127.7L311.1 126.1L313.7 124.7L316.4 123.4L319.0 122.2L321.7 121.2L324.3 120.6L327.0 120.0L329.6 119.6L332.3 119.5L334.9 119.7L337.6 120.3L340.2 121.0L342.8 121.8L345.5 123.1L348.1 124.5L350.8 125.9L353.4 127.3L356.1 128.5L358.7 129.4L361.4 130.0L364.0 130.3L366.7 129.8L369.3 128.2L372.0 125.8L374.6 121.8L377.2 117.4L379.9 112.6L382.5 108.6L385.2 107.6L387.8 111.2L390.5 122.0L393.1 134.3" fill="none" stroke="#0ff" stroke-width="1" stroke-opacity="0.75"/>
<path d="M39.2 261.3l4.1 4.1M39.2 265.4l4.1 -4.1M41.8 248.4l4.1 4.1M41.8 252.5l4.1 -4.1M44.4 240.5l4.1 4.1M44.4 244.6l4.1 -4.1M47.1 233.6l4.1 4.1M47.1 237.7l4.1 -4.1M49.7 228.8l4.1 4.1M49.7 232.9l4.1 -4.1M52.4 225.5l4.1 4.1M52.4 229.6l4.1 -4.1M55.0 224.3l4.1 4.1M55.0 228.4l4.1 -4.1M57.7 225.6l4.1 4.1M57.7 229.7l4.1 -4.1M60.3 228.3l4.1 4.1M60.3 232.4l4.1 -4.1M63.0 230.3l4.1 4.1M63.0 234.4l4.1 -4.1M65.6 231.8l4.1 4.1M65.6 235.9l4.1 -4.1M68.3 233.1l4.1 4.1M68.3 237.2l4.1 -4.1M70.9 233.9l4.1 4.1M70.9 238.0l4.1 -4.1M73.5 234.6l4.1 4.1M73.5 238.7l4.1 -4.1M76.2 235.0l4.1 4.1M76.2 239.1l4.1 -4.1M78.8 235.0l4.1 4.1M78.8 239.1l4.1 -4.1M81.5 234.7l4.1 4.1M81.5 238.8l4.1 -4.1M84.1 234.2l4.1 4.1M84.1 238.3l4.1 -4.1M86.8 233.6l4.1 4.1M86.8 237.7l4.1 -4.1M89.4 232.7l4.1 4.1M89.4 236.8l4.1 -4.1M92.1 231.7l4.1 4.1M92.1 235.8l4.1 -4.1M94.7 230.5l4.1 4.1M94.7 234.6l4.1 -4.1M97.4 229.3l4.1 4.1M97.4 233.4l4.1 -4.1M100.0 228.0l4.1 4.1M100.0 232.1l4.1 -4.1M102.7 227.1l4.1 4.1M102.7 231.2l4.1 -4.1M105.3 226.4l4.1 4.1M105.3 230.5l4.1 -4.1M107.9 225.9l4.1 4.1M107.9 230.0l4.1 -4.1M110.6 225.6l4.1 4.1M110.6 229.7l4.1 -4.1M113.2 225.6l4.1 4.1M113.2 229.7l4.1 -4.1M115.9 225.6l4.1 4.1M115.9 229.7l4.1 -4.1M118.5 225.6l4.1 4.1M118.5 229.7l4.1 -4.1M121.2 225.8l4.1 4.1M121.2 229.9l4.1 -4.1M123.8 226.0l4.1 4.1M123.8 230.1l4.1 -4.1M126.5 226.8l4.1 4.1M126.5 230.9l4.1 -4.1M129.1 227.8l4.1 4.1M129.1 231.9l4.1 -4.1M131.8 228.9l4.1 4.1M131.8 233.0l4.1 -4.1M134.4 229.9l4.1 4.1M134.4 234.0l4.1 -4.1M137.1 230.9l4.1 4.1M137.1 235.0l4.1 -4.1M139.7 231.9l4.1 4.1M139.7 236.0l4.1 -4.1M142.3 232.9l4.1 4.1M142.3 237.0l4.1 -4.1M145.0 233.8l4.1 4.1M145.0 237.9l4.1 -4.1M147.6 234.5l4.1 4.1M147.6 238.6l4.1 -4.1M150.3 235.1l4.1 4.1M150.3 239.2l4.1 -4.1M152.9 235.6l4.1 4.1M152.9 239.7l4.1 -4.1M155.6 236.0l4.1 4.1M155.6 240.1l4.1 -4.1M158.2 236.2l4.1 4.1M158.2 240.3l4.1 -4.1M160.9 236.2l4.1 4.1M160.9 240.3l4.1 -4.1M163.5 236.2l4.1 4.1M163.5 240.3l4.1 -4.1M166.2 236.0l4.1 4.1M166.2 240.1l4.1 -4.1M168.8 235.9l4.1 4.1M168.8 240.0l4.1 -4.1M171.5 235.3l4.1 4.1M171.5 239.4l4.1 -4.1M174.1 234.3l4.1 4.1M174.1 238.4l4.1 -4.1M176.7 233.0l4.1 4.1M176.7 237.1l4.1 -4.1M179.4 231.2l4.1 4.1M179.4 235.3l4.1 -4.1M182.0 229.3l4.1 4.1M182.0 233.4l4.1 -4.1M184.7 227.3l4.1 4.1M184.7 231.4l4.1 -4.1M187.3 225.0l4.1 4.1M187.3 229.1l4.1 -4.1M190.0 222.4l4.1 4.1M190.0 226.5l4.1 -4.1M192.6 219.4l4.1 4.1M192.6 223.5l4.1 -4.1M195.3 216.0l4.1 4.1M195.3 220.1l4.1 -4.1M197.9 212.1l4.1 4.1M197.9 216.2l4.1 -4.1M200.6 207.8l4.1 4.1M200.6 211.9l4.1 -4.1M203.2 203.1l4.1 4.1M203.2 207.2l4.1 -4.1M205.8 198.1l4.1 4.1M205.8 202.2l4.1 -4.1M208.5 192.5l4.1 4.1M208.5 196.6l4.1 -4.1M211.1 186.5l4.1 4.1M211.1 190.6l4.1 -4.1M213.8 180.1l4.1 4.1M213.8 184.2l4.1 -4.1M216.4 173.6l4.1 4.1M216.4 177.7l4.1 -4.1M219.1 166.9l4.1 4.1M219.1 171.0l4.1 -4.1M221.7 160.2l4.1 4.1M221.7 164.3l4.1 -4.1M224.4 153.3l4.1 4.1M224.4 157.4l4.1 -4.1M227.0 146.7l4.1 4.1M227.0 150.8l4.1 -4.1M229.7 141.2l4.1 4.1M229.7 145.3l4.1 -4.1M232.3 135.3l4.1 4.1M232.3 139.4l4.1 -4.1M235.0 129.0l4.1 4.1M235.0 133.1l4.1 -4.1M237.6 124.3l4.1 4.1M237.6 128.4l4.1 -4.1M240.2 120.2l4.1 4.1M240.2 124.3l4.1 -4.1M242.9 117.0l4.1 4.1M242.9 121.1l4.1 -4.1M245.5 115.3l4.1 4.1M245.5 119.4l4.1 -4.1M248.2 114.2l4.1 4.1M248.2 118.3l4.1 -4.1M250.8 113.3l4.1 4.1M250.8 117.4l4.1 -4.1M253.5 112.8l4.1 4.1M253.5 116.9l4.1 -4.1M256.1 112.8l4.1 4.1M256.1 116.9l4.1 -4.1M258.8 113.5l4.1 4.1M258.8 117.6l4.1 -4.1M261.4 114.7l4.1 4.1M261.4 118.8l4.1 -4.1M264.1 115.9l4.1 4.1M264.1 120.0l4.1 -4.1M266.7 117.5l4.1 4.1M266.7 121.6l4.1 -4.1M269.4 119.6l4.1 4.1M269.4 123.7l4.1 -4.1M272.0 121.7l4.1 4.1M272.0 125.8l4.1 -4.1M274.6 123.5l4.1 4.1M274.6 127.6l4.1 -4.1M277.3 125.2l4.1 4.1M277.3 129.3l4.1 -4.1M279.9 126.8l4.1 4.1M279.9 130.9l4.1 -4.1M282.6 128.3l4.1 4.1M282.6 132.4l4.1 -4.1M285.2 129.3l4.1 4.1M285.2 133.4l4.1 -4.1M287.9 129.9l4.1 4.1M287.9 134.0l4.1 -4.1M290.5 130.4l4.1 4.1M290.5 134.5l4.1 -4.1M293.2 130.6l4.1 4.1M293.2 134.7l4.1 -4.1M295.8 130.5l4.1 4.1M295.8 134.6l4.1 -4.1M298.5 129.6l4.1 4.1M298.5 133.7l4.1 -4.1M301.1 128.4l4.1 4.1M301.1 132.5l4.1 -4.1M303.8 127.2l4.1 4.1M303.8 131.3l4.1 -4.1M306.4 125.7l4.1 4.1M306.4 129.8l4.1 -4.1M309.0 124.1l4.1 4.1M309.0 128.2l4.1 -4.1M311.7 122.6l4.1 4.1M311.7 126.7l4.1 -4.1M314.3 121.4l4.1 4.1M314.3 125.5l4.1 -4.1M317.0 120.2l4.1 4.1M317.0 124.3l4.1 -4.1M319.6 119.2l4.1 4.1M319.6 123.3l4.1 -4.1M322.3 118.5l4.1 4.1M322.3 122.6l4.1 -4.1M324.9 118.0l4.1 4.1M324.9 122.1l4.1 -4.1M327.6 117.6l4.1 4.1M327.6 121.7l4.1 -4.1M330.2 117.5l4.1 4.1M330.2 121.6l4.1 -4.1M332.9 117.7l4.1 4.1M332.9 121.8l4.1 -4.1M335.5 118.2l4.1 4.1M335.5 122.3l4.1 -4.1M338.1 118.9l4.1 4.1M338.1 123.0l4.1 -4.1M340.8 119.7l4.1 4.1M340.8 123.8l4.1 -4.1M343.4 121.0l4.1 4.1M343.4 125.1l4.1 -4.1M346.1 122.5l4.1 4.1M346.1 126.6l4.1 -4.1M348.7 123.8l4.1 4.1M348.7 127.9l4.1 -4.1M351.4 125.2l4.1 4.1M351.4 129.3l4.1 -4.1M354.0 126.5l4.1 4.1M354.0 130.6l4.1 -4.1M356.7 127.3l4.1 4.1M356.7 131.4l4.1 -4.1M359.3 127.9l4.1 4.1M359.3 132.0l4.1 -4.1M362.0 128.2l4.1 4.1M362.0 132.3l4.1 -4.1M364.6 127.7l4.1 4.1M364.6 131.8l4.1 -4.1M367.3 126.1l4.1 4.1M367.3 130.2l4.1 -4.1M369.9 123.8l4.1 4.1M369.9 127.9l4.1 -4.1M372.5 119.7l4.1 4.1M372.5 123.8l4.1 -4.1M375.2 115.4l4.1 4.1M375.2 119.5l4.1 -4.1M377.8 110.5l4.1 4.1M377.8 114.6l4.1 -4.1M380.5 106.6l4.1 4.1M380.5 110.7l4.1 -4.1M383.1 105.6l4.1 4.1M383.1 109.7l4.1 -4.1M385.8 109.1l4.1 4.1M385.8 113.2l4.1 -4.1M388.4 119.9l4.1 4.1M388.4 124.0l4.1 -4.1M391.1 132.2l4.1 4.1M391.1 136.3l4.1 -4.1" fill="none" stroke="#0ff" stroke-width="1.25"/>
</g>
<g stroke="#505050" stroke-width="1" fill="none"><path d="M41.5 0.5H394.1V277.5H41.5Z"/><path d="M75.5 277.5v-4M75.5 0.5v4M110.9 277.5v-4M110.9 0.5v4M146.3 277.5v-4M146.3 0.5v4M181.7 277.5v-4M181.7 0.5v4M217.1 277.5v-4M217.1 0.5v4M252.5 277.5v-4M252.5 0.5v4M287.9 277.5v-4M287.9 0.5v4M323.3 277.5v-4M323.3 0.5v4M358.7 277.5v-4M358.7 0.5v4M41.5 238.5h3M394.1 238.5h-4.3M41.5 198.5h3M394.1 198.5h-4.3M41.5 158.5h3M394.1 158.5h-4.3M41.5 118.5h3M394.1 118.5h-4.3M41.5 79.5h3M394.1 79.5h-4.3M41.5 39.5h3M394.1 39.5h-4.3"/></g>
<g font-family="Liberation Sans, Arial, sans-serif" font-size="10px" fill="#000" stroke="#000" stroke-width="0.25"><text x="39.0" y="290" text-anchor="middle">-1</text><text x="74.4" y="290" text-anchor="middle">-0.8</text><text x="109.8" y="290" text-anchor="middle">-0.6</text><text x="145.2" y="290" text-anchor="middle">-0.4</text><text x="180.6" y="290" text-anchor="middle">-0.2</text><text x="217.1" y="290" text-anchor="middle">0</text><text x="252.5" y="290" text-anchor="middle">0.2</text><text x="287.9" y="290" text-anchor="middle">0.4</text><text x="323.3" y="290" text-anchor="middle">0.6</text><text x="358.7" y="290" text-anchor="middle">0.8</text><text x="394.1" y="290" text-anchor="middle">1</text><text x="37.7" y="281.1" text-anchor="end">0</text><text x="37.7" y="242.1" text-anchor="end">0.2</text><text x="37.7" y="202.1" text-anchor="end">0.4</text><text x="37.7" y="162.1" text-anchor="end">0.6</text><text x="37.7" y="122.1" text-anchor="end">0.8</text><text x="37.7" y="83.1" text-anchor="end">1</text><text x="37.7" y="43.1" text-anchor="end">1.2</text><text x="217.1" y="303.2" text-anchor="middle" font-style="italic">x</text><text transform="translate(9.0 140.0) rotate(-90)" text-anchor="middle"><tspan font-style="italic">f</tspan>(<tspan font-style="italic">x</tspan>)</text></g>
<rect x="47.5" y="6.5" width="167.0" height="80.0" fill="#fff" stroke="#505050" stroke-width="1"/>
<path d="M54 15.5H87" stroke="#f00" stroke-width="1" stroke-opacity="0.75" fill="none"/><text x="90" y="19.6" font-family="Liberation Sans, Arial, sans-serif" font-size="10.3px" style="word-spacing:1.3px" fill="#000" stroke="#000" stroke-width="0.3">Exact pdf</text>
<path d="M54 31.5H87" stroke="#ff0" stroke-width="1" stroke-opacity="0.75" fill="none"/><path d="M70.5 28.1L71.3 30.4L73.7 30.4L71.7 31.9L72.5 34.3L70.5 32.8L68.5 34.3L69.3 31.9L67.3 30.4L69.7 30.4Z" stroke="#ff0" stroke-width="1" fill="none"/><text x="90" y="35.6" font-family="Liberation Sans, Arial, sans-serif" font-size="10.3px" style="word-spacing:1.3px" fill="#000" stroke="#000" stroke-width="0.3">Proposed method (m=2)</text>
<path d="M54 46.5H87" stroke="#0f0" stroke-width="1" stroke-opacity="0.75" fill="none"/><path d="M67.5 46.5h6.0M70.5 43.5v6.0" stroke="#0f0" stroke-width="1" fill="none"/><text x="90" y="50.6" font-family="Liberation Sans, Arial, sans-serif" font-size="10.3px" style="word-spacing:1.3px" fill="#000" stroke="#000" stroke-width="0.3">Proposed method (m=4)</text>
<path d="M54 61.5H87" stroke="#000" stroke-width="1" stroke-opacity="0.75" fill="none"/><path d="M67.8 61.5h5.4M70.5 58.3v6.4M68.6 59.6l3.8 3.8M68.6 63.4l3.8 -3.8" stroke="#000" stroke-width="1" fill="none"/><text x="90" y="65.6" font-family="Liberation Sans, Arial, sans-serif" font-size="10.3px" style="word-spacing:1.3px" fill="#000" stroke="#000" stroke-width="0.3">Proposed method (m=8)</text>
<path d="M54 76.5H87" stroke="#0ff" stroke-width="1" stroke-opacity="0.75" fill="none"/><path d="M68.5 74.5l4.1 4.1M68.5 78.5l4.1 -4.1" stroke="#0ff" stroke-width="1" fill="none"/><text x="90" y="80.6" font-family="Liberation Sans, Arial, sans-serif" font-size="10.3px" style="word-spacing:1.3px" fill="#000" stroke="#000" stroke-width="0.3">Proposed method (m=16)</text>
<clipPath id="cr"><rect x="460.5" y="0" width="360.20000000000005" height="281.5"/></clipPath>
<g clip-path="url(#cr)">
<path d="M464.5 227.5H641.0M640.0 128.5H816.7" fill="none" stroke="#f00" stroke-width="1" shape-rendering="crispEdges"/><path d="M640.5 128V228" fill="none" stroke="#f00" stroke-opacity="0.7" stroke-width="1" shape-rendering="crispEdges"/>
<path d="M464.5 247.3L467.1 246.6L469.8 245.9L472.4 245.1L475.1 244.4L477.7 243.7L480.3 242.9L483.0 242.2L485.6 241.4L488.3 240.6L490.9 239.8L493.6 239.0L496.2 238.2L498.8 237.4L501.5 236.5L504.1 235.7L506.8 234.8L509.4 233.9L512.0 233.1L514.7 232.2L517.3 231.2L520.0 230.3L522.6 229.4L525.3 228.5L527.9 227.5L530.5 226.5L533.2 225.6L535.8 224.6L538.5 223.6L541.1 222.6L543.7 221.6L546.4 220.5L549.0 219.5L551.7 218.5L554.3 217.4L557.0 216.3L559.6 215.3L562.2 214.2L564.9 213.1L567.5 212.0L570.2 210.9L572.8 209.7L575.4 208.6L578.1 207.5L580.7 206.3L583.4 205.2L586.0 204.0L588.7 202.8L591.3 201.7L593.9 200.5L596.6 199.3L599.2 198.1L601.9 196.9L604.5 195.7L607.1 194.4L609.8 193.2L612.4 192.0L615.1 190.8L617.7 189.5L620.3 188.3L623.0 187.0L625.6 185.8L628.3 184.5L630.9 183.3L633.6 182.0L636.2 180.8L638.8 179.5L641.5 178.2L644.1 177.0L646.8 175.7L649.4 174.4L652.0 173.2L654.7 171.9L657.3 170.6L660.0 169.4L662.6 168.1L665.3 166.8L667.9 165.6L670.5 164.3L673.2 163.1L675.8 161.8L678.5 160.6L681.1 159.3L683.7 158.1L686.4 156.8L689.0 155.6L691.7 154.4L694.3 153.2L697.0 152.0L699.6 150.8L702.2 149.6L704.9 148.4L707.5 147.2L710.2 146.0L712.8 144.9L715.4 143.7L718.1 142.6L720.7 141.4L723.4 140.3L726.0 139.2L728.7 138.1L731.3 137.0L733.9 136.0L736.6 134.9L739.2 133.9L741.9 132.8L744.5 131.8L747.1 130.8L749.8 129.8L752.4 128.8L755.1 127.9L757.7 126.9L760.3 126.0L763.0 125.1L765.6 124.2L768.3 123.4L770.9 122.5L773.6 121.7L776.2 120.9L778.8 120.1L781.5 119.3L784.1 118.5L786.8 117.8L789.4 117.1L792.0 116.4L794.7 115.7L797.3 115.0L800.0 114.4L802.6 113.8L805.3 113.2L807.9 112.7L810.5 112.1L813.2 111.6L815.8 111.1" fill="none" stroke="#ff0" stroke-width="1" stroke-opacity="0.75"/>
<path d="M464.5 243.9L465.3 246.2L467.7 246.2L465.7 247.7L466.5 250.0L464.5 248.6L462.5 250.0L463.3 247.7L461.3 246.2L463.7 246.2ZM467.1 243.2L467.9 245.5L470.4 245.5L468.4 247.0L469.1 249.3L467.1 247.9L465.1 249.3L465.9 247.0L463.9 245.5L466.4 245.5ZM469.8 242.5L470.5 244.8L473.0 244.8L471.0 246.3L471.8 248.6L469.8 247.2L467.8 248.6L468.5 246.3L466.5 244.8L469.0 244.8ZM472.4 241.7L473.2 244.1L475.7 244.1L473.7 245.5L474.4 247.9L472.4 246.4L470.4 247.9L471.2 245.5L469.2 244.1L471.7 244.1ZM475.1 241.0L475.8 243.4L478.3 243.4L476.3 244.8L477.1 247.2L475.1 245.7L473.1 247.2L473.8 244.8L471.8 243.4L474.3 243.4ZM477.7 240.3L478.5 242.6L480.9 242.6L478.9 244.1L479.7 246.4L477.7 245.0L475.7 246.4L476.5 244.1L474.5 242.6L476.9 242.6ZM480.3 239.5L481.1 241.9L483.6 241.9L481.6 243.3L482.3 245.7L480.3 244.2L478.4 245.7L479.1 243.3L477.1 241.9L479.6 241.9ZM483.0 238.8L483.8 241.1L486.2 241.1L484.2 242.6L485.0 244.9L483.0 243.5L481.0 244.9L481.8 242.6L479.8 241.1L482.2 241.1ZM485.6 238.0L486.4 240.3L488.9 240.3L486.9 241.8L487.6 244.1L485.6 242.7L483.6 244.1L484.4 241.8L482.4 240.3L484.9 240.3ZM488.3 237.2L489.0 239.6L491.5 239.6L489.5 241.0L490.3 243.4L488.3 241.9L486.3 243.4L487.0 241.0L485.0 239.6L487.5 239.6ZM490.9 236.4L491.7 238.8L494.1 238.8L492.2 240.2L492.9 242.6L490.9 241.1L488.9 242.6L489.7 240.2L487.7 238.8L490.2 238.8ZM493.6 235.6L494.3 238.0L496.8 238.0L494.8 239.4L495.6 241.8L493.6 240.3L491.6 241.8L492.3 239.4L490.3 238.0L492.8 238.0ZM496.2 234.8L497.0 237.1L499.4 237.1L497.4 238.6L498.2 240.9L496.2 239.5L494.2 240.9L495.0 238.6L493.0 237.1L495.4 237.1ZM498.8 234.0L499.6 236.3L502.1 236.3L500.1 237.8L500.8 240.1L498.8 238.7L496.8 240.1L497.6 237.8L495.6 236.3L498.1 236.3ZM501.5 233.1L502.2 235.5L504.7 235.5L502.7 236.9L503.5 239.3L501.5 237.8L499.5 239.3L500.2 236.9L498.2 235.5L500.7 235.5ZM504.1 232.3L504.9 234.6L507.4 234.6L505.4 236.1L506.1 238.4L504.1 237.0L502.1 238.4L502.9 236.1L500.9 234.6L503.4 234.6ZM506.8 231.4L507.5 233.8L510.0 233.8L508.0 235.2L508.8 237.6L506.8 236.1L504.8 237.6L505.5 235.2L503.5 233.8L506.0 233.8ZM509.4 230.5L510.2 232.9L512.6 232.9L510.6 234.3L511.4 236.7L509.4 235.2L507.4 236.7L508.2 234.3L506.2 232.9L508.6 232.9ZM512.0 229.7L512.8 232.0L515.3 232.0L513.3 233.5L514.0 235.8L512.0 234.3L510.0 235.8L510.8 233.5L508.8 232.0L511.3 232.0ZM514.7 228.8L515.5 231.1L517.9 231.1L515.9 232.6L516.7 234.9L514.7 233.5L512.7 234.9L513.5 232.6L511.5 231.1L513.9 231.1ZM517.3 227.8L518.1 230.2L520.6 230.2L518.6 231.6L519.3 234.0L517.3 232.5L515.3 234.0L516.1 231.6L514.1 230.2L516.6 230.2ZM520.0 226.9L520.7 229.3L523.2 229.3L521.2 230.7L522.0 233.1L520.0 231.6L518.0 233.1L518.7 230.7L516.7 229.3L519.2 229.3ZM522.6 226.0L523.4 228.3L525.8 228.3L523.8 229.8L524.6 232.1L522.6 230.7L520.6 232.1L521.4 229.8L519.4 228.3L521.8 228.3ZM525.3 225.1L526.0 227.4L528.5 227.4L526.5 228.9L527.3 231.2L525.3 229.8L523.3 231.2L524.0 228.9L522.0 227.4L524.5 227.4ZM527.9 224.1L528.7 226.5L531.1 226.5L529.1 227.9L529.9 230.3L527.9 228.8L525.9 230.3L526.7 227.9L524.7 226.5L527.1 226.5ZM530.5 223.1L531.3 225.5L533.8 225.5L531.8 226.9L532.5 229.3L530.5 227.8L528.5 229.3L529.3 226.9L527.3 225.5L529.8 225.5ZM533.2 222.2L533.9 224.5L536.4 224.5L534.4 226.0L535.2 228.3L533.2 226.9L531.2 228.3L531.9 226.0L529.9 224.5L532.4 224.5ZM535.8 221.2L536.6 223.5L539.1 223.5L537.1 225.0L537.8 227.3L535.8 225.9L533.8 227.3L534.6 225.0L532.6 223.5L535.1 223.5ZM538.5 220.2L539.2 222.5L541.7 222.5L539.7 224.0L540.5 226.3L538.5 224.9L536.5 226.3L537.2 224.0L535.2 222.5L537.7 222.5ZM541.1 219.2L541.9 221.5L544.3 221.5L542.3 223.0L543.1 225.3L541.1 223.9L539.1 225.3L539.9 223.0L537.9 221.5L540.3 221.5ZM543.7 218.2L544.5 220.5L547.0 220.5L545.0 222.0L545.7 224.3L543.7 222.9L541.7 224.3L542.5 222.0L540.5 220.5L543.0 220.5ZM546.4 217.1L547.1 219.5L549.6 219.5L547.6 220.9L548.4 223.3L546.4 221.8L544.4 223.3L545.2 220.9L543.2 219.5L545.6 219.5ZM549.0 216.1L549.8 218.5L552.3 218.5L550.3 219.9L551.0 222.3L549.0 220.8L547.0 222.3L547.8 219.9L545.8 218.5L548.3 218.5ZM551.7 215.1L552.4 217.4L554.9 217.4L552.9 218.9L553.7 221.2L551.7 219.8L549.7 221.2L550.4 218.9L548.4 217.4L550.9 217.4ZM554.3 214.0L555.1 216.3L557.5 216.3L555.5 217.8L556.3 220.1L554.3 218.7L552.3 220.1L553.1 217.8L551.1 216.3L553.5 216.3ZM557.0 212.9L557.7 215.3L560.2 215.3L558.2 216.7L559.0 219.1L557.0 217.6L555.0 219.1L555.7 216.7L553.7 215.3L556.2 215.3ZM559.6 211.9L560.4 214.2L562.8 214.2L560.8 215.7L561.6 218.0L559.6 216.6L557.6 218.0L558.4 215.7L556.4 214.2L558.8 214.2ZM562.2 210.8L563.0 213.1L565.5 213.1L563.5 214.6L564.2 216.9L562.2 215.5L560.2 216.9L561.0 214.6L559.0 213.1L561.5 213.1ZM564.9 209.7L565.6 212.0L568.1 212.0L566.1 213.5L566.9 215.8L564.9 214.4L562.9 215.8L563.6 213.5L561.6 212.0L564.1 212.0ZM567.5 208.6L568.3 210.9L570.8 210.9L568.8 212.4L569.5 214.7L567.5 213.3L565.5 214.7L566.3 212.4L564.3 210.9L566.8 210.9ZM570.2 207.5L570.9 209.8L573.4 209.8L571.4 211.3L572.2 213.6L570.2 212.2L568.2 213.6L568.9 211.3L566.9 209.8L569.4 209.8ZM572.8 206.3L573.6 208.7L576.0 208.7L574.0 210.1L574.8 212.5L572.8 211.0L570.8 212.5L571.6 210.1L569.6 208.7L572.0 208.7ZM575.4 205.2L576.2 207.6L578.7 207.6L576.7 209.0L577.4 211.4L575.4 209.9L573.4 211.4L574.2 209.0L572.2 207.6L574.7 207.6ZM578.1 204.1L578.8 206.4L581.3 206.4L579.3 207.9L580.1 210.2L578.1 208.8L576.1 210.2L576.8 207.9L574.9 206.4L577.3 206.4ZM580.7 202.9L581.5 205.3L584.0 205.3L582.0 206.7L582.7 209.1L580.7 207.6L578.7 209.1L579.5 206.7L577.5 205.3L580.0 205.3ZM583.4 201.8L584.1 204.1L586.6 204.1L584.6 205.6L585.4 207.9L583.4 206.5L581.4 207.9L582.1 205.6L580.1 204.1L582.6 204.1ZM586.0 200.6L586.8 203.0L589.2 203.0L587.2 204.4L588.0 206.8L586.0 205.3L584.0 206.8L584.8 204.4L582.8 203.0L585.2 203.0ZM588.7 199.4L589.4 201.8L591.9 201.8L589.9 203.2L590.6 205.6L588.7 204.1L586.7 205.6L587.4 203.2L585.4 201.8L587.9 201.8ZM591.3 198.3L592.1 200.6L594.5 200.6L592.5 202.1L593.3 204.4L591.3 203.0L589.3 204.4L590.1 202.1L588.1 200.6L590.5 200.6ZM593.9 197.1L594.7 199.4L597.2 199.4L595.2 200.9L595.9 203.2L593.9 201.8L591.9 203.2L592.7 200.9L590.7 199.4L593.2 199.4ZM596.6 195.9L597.3 198.2L599.8 198.2L597.8 199.7L598.6 202.0L596.6 200.6L594.6 202.0L595.3 199.7L593.3 198.2L595.8 198.2ZM599.2 194.7L600.0 197.0L602.5 197.0L600.5 198.5L601.2 200.8L599.2 199.4L597.2 200.8L598.0 198.5L596.0 197.0L598.5 197.0ZM601.9 193.5L602.6 195.8L605.1 195.8L603.1 197.3L603.9 199.6L601.9 198.2L599.9 199.6L600.6 197.3L598.6 195.8L601.1 195.8ZM604.5 192.3L605.3 194.6L607.7 194.6L605.7 196.1L606.5 198.4L604.5 197.0L602.5 198.4L603.3 196.1L601.3 194.6L603.7 194.6ZM607.1 191.0L607.9 193.4L610.4 193.4L608.4 194.8L609.1 197.2L607.1 195.7L605.1 197.2L605.9 194.8L603.9 193.4L606.4 193.4ZM609.8 189.8L610.5 192.2L613.0 192.2L611.0 193.6L611.8 196.0L609.8 194.5L607.8 196.0L608.5 193.6L606.5 192.2L609.0 192.2ZM612.4 188.6L613.2 190.9L615.7 190.9L613.7 192.4L614.4 194.7L612.4 193.3L610.4 194.7L611.2 192.4L609.2 190.9L611.7 190.9ZM615.1 187.4L615.8 189.7L618.3 189.7L616.3 191.2L617.1 193.5L615.1 192.1L613.1 193.5L613.8 191.2L611.8 189.7L614.3 189.7ZM617.7 186.1L618.5 188.5L620.9 188.5L618.9 189.9L619.7 192.3L617.7 190.8L615.7 192.3L616.5 189.9L614.5 188.5L616.9 188.5ZM620.3 184.9L621.1 187.2L623.6 187.2L621.6 188.7L622.3 191.0L620.3 189.6L618.4 191.0L619.1 188.7L617.1 187.2L619.6 187.2ZM623.0 183.6L623.8 186.0L626.2 186.0L624.2 187.4L625.0 189.8L623.0 188.3L621.0 189.8L621.8 187.4L619.8 186.0L622.2 186.0ZM625.6 182.4L626.4 184.7L628.9 184.7L626.9 186.2L627.6 188.5L625.6 187.1L623.6 188.5L624.4 186.2L622.4 184.7L624.9 184.7ZM628.3 181.1L629.0 183.5L631.5 183.5L629.5 184.9L630.3 187.3L628.3 185.8L626.3 187.3L627.0 184.9L625.0 183.5L627.5 183.5ZM630.9 179.9L631.7 182.2L634.1 182.2L632.1 183.7L632.9 186.0L630.9 184.6L628.9 186.0L629.7 183.7L627.7 182.2L630.2 182.2ZM633.6 178.6L634.3 181.0L636.8 181.0L634.8 182.4L635.6 184.8L633.6 183.3L631.6 184.8L632.3 182.4L630.3 181.0L632.8 181.0ZM636.2 177.4L637.0 179.7L639.4 179.7L637.4 181.2L638.2 183.5L636.2 182.1L634.2 183.5L635.0 181.2L633.0 179.7L635.4 179.7ZM638.8 176.1L639.6 178.4L642.1 178.4L640.1 179.9L640.8 182.3L638.8 180.8L636.8 182.3L637.6 179.9L635.6 178.4L638.1 178.4ZM641.5 174.8L642.2 177.2L644.7 177.2L642.7 178.6L643.5 181.0L641.5 179.5L639.5 181.0L640.2 178.6L638.2 177.2L640.7 177.2ZM644.1 173.6L644.9 175.9L647.4 175.9L645.4 177.4L646.1 179.7L644.1 178.3L642.1 179.7L642.9 177.4L640.9 175.9L643.4 175.9ZM646.8 172.3L647.5 174.7L650.0 174.7L648.0 176.1L648.8 178.5L646.8 177.0L644.8 178.5L645.5 176.1L643.5 174.7L646.0 174.7ZM649.4 171.0L650.2 173.4L652.6 173.4L650.6 174.8L651.4 177.2L649.4 175.7L647.4 177.2L648.2 174.8L646.2 173.4L648.6 173.4ZM652.0 169.8L652.8 172.1L655.3 172.1L653.3 173.6L654.0 175.9L652.0 174.5L650.0 175.9L650.8 173.6L648.8 172.1L651.3 172.1ZM654.7 168.5L655.5 170.9L657.9 170.9L655.9 172.3L656.7 174.7L654.7 173.2L652.7 174.7L653.5 172.3L651.5 170.9L653.9 170.9ZM657.3 167.2L658.1 169.6L660.6 169.6L658.6 171.0L659.3 173.4L657.3 171.9L655.3 173.4L656.1 171.0L654.1 169.6L656.6 169.6ZM660.0 166.0L660.7 168.3L663.2 168.3L661.2 169.8L662.0 172.1L660.0 170.7L658.0 172.1L658.7 169.8L656.7 168.3L659.2 168.3ZM662.6 164.7L663.4 167.1L665.8 167.1L663.8 168.5L664.6 170.9L662.6 169.4L660.6 170.9L661.4 168.5L659.4 167.1L661.8 167.1ZM665.3 163.4L666.0 165.8L668.5 165.8L666.5 167.2L667.3 169.6L665.3 168.1L663.3 169.6L664.0 167.2L662.0 165.8L664.5 165.8ZM667.9 162.2L668.7 164.5L671.1 164.5L669.1 166.0L669.9 168.3L667.9 166.9L665.9 168.3L666.7 166.0L664.7 164.5L667.1 164.5ZM670.5 160.9L671.3 163.3L673.8 163.3L671.8 164.7L672.5 167.1L670.5 165.6L668.5 167.1L669.3 164.7L667.3 163.3L669.8 163.3ZM673.2 159.7L673.9 162.0L676.4 162.0L674.4 163.5L675.2 165.8L673.2 164.4L671.2 165.8L671.9 163.5L669.9 162.0L672.4 162.0ZM675.8 158.4L676.6 160.8L679.1 160.8L677.1 162.2L677.8 164.6L675.8 163.1L673.8 164.6L674.6 162.2L672.6 160.8L675.1 160.8ZM678.5 157.2L679.2 159.5L681.7 159.5L679.7 161.0L680.5 163.3L678.5 161.9L676.5 163.3L677.2 161.0L675.2 159.5L677.7 159.5ZM681.1 155.9L681.9 158.3L684.3 158.3L682.3 159.7L683.1 162.1L681.1 160.6L679.1 162.1L679.9 159.7L677.9 158.3L680.3 158.3ZM683.7 154.7L684.5 157.0L687.0 157.0L685.0 158.5L685.7 160.8L683.7 159.4L681.7 160.8L682.5 158.5L680.5 157.0L683.0 157.0ZM686.4 153.4L687.1 155.8L689.6 155.8L687.6 157.2L688.4 159.6L686.4 158.1L684.4 159.6L685.2 157.2L683.2 155.8L685.6 155.8ZM689.0 152.2L689.8 154.6L692.3 154.6L690.3 156.0L691.0 158.4L689.0 156.9L687.0 158.4L687.8 156.0L685.8 154.6L688.3 154.6ZM691.7 151.0L692.4 153.3L694.9 153.3L692.9 154.8L693.7 157.1L691.7 155.7L689.7 157.1L690.4 154.8L688.4 153.3L690.9 153.3ZM694.3 149.8L695.1 152.1L697.5 152.1L695.5 153.6L696.3 155.9L694.3 154.5L692.3 155.9L693.1 153.6L691.1 152.1L693.5 152.1ZM697.0 148.6L697.7 150.9L700.2 150.9L698.2 152.4L699.0 154.7L697.0 153.3L695.0 154.7L695.7 152.4L693.7 150.9L696.2 150.9ZM699.6 147.4L700.4 149.7L702.8 149.7L700.8 151.2L701.6 153.5L699.6 152.1L697.6 153.5L698.4 151.2L696.4 149.7L698.8 149.7ZM702.2 146.2L703.0 148.5L705.5 148.5L703.5 150.0L704.2 152.3L702.2 150.9L700.2 152.3L701.0 150.0L699.0 148.5L701.5 148.5ZM704.9 145.0L705.6 147.3L708.1 147.3L706.1 148.8L706.9 151.1L704.9 149.7L702.9 151.1L703.6 148.8L701.6 147.3L704.1 147.3ZM707.5 143.8L708.3 146.1L710.8 146.1L708.8 147.6L709.5 149.9L707.5 148.5L705.5 149.9L706.3 147.6L704.3 146.1L706.8 146.1ZM710.2 142.6L710.9 145.0L713.4 145.0L711.4 146.4L712.2 148.8L710.2 147.3L708.2 148.8L708.9 146.4L706.9 145.0L709.4 145.0ZM712.8 141.5L713.6 143.8L716.0 143.8L714.0 145.3L714.8 147.6L712.8 146.2L710.8 147.6L711.6 145.3L709.6 143.8L712.0 143.8ZM715.4 140.3L716.2 142.7L718.7 142.7L716.7 144.1L717.4 146.5L715.4 145.0L713.4 146.5L714.2 144.1L712.2 142.7L714.7 142.7ZM718.1 139.2L718.8 141.5L721.3 141.5L719.3 143.0L720.1 145.3L718.1 143.9L716.1 145.3L716.8 143.0L714.9 141.5L717.3 141.5ZM720.7 138.0L721.5 140.4L724.0 140.4L722.0 141.8L722.7 144.2L720.7 142.7L718.7 144.2L719.5 141.8L717.5 140.4L720.0 140.4ZM723.4 136.9L724.1 139.3L726.6 139.3L724.6 140.7L725.4 143.1L723.4 141.6L721.4 143.1L722.1 140.7L720.1 139.3L722.6 139.3ZM726.0 135.8L726.8 138.2L729.2 138.2L727.2 139.6L728.0 142.0L726.0 140.5L724.0 142.0L724.8 139.6L722.8 138.2L725.2 138.2ZM728.7 134.7L729.4 137.1L731.9 137.1L729.9 138.5L730.6 140.9L728.7 139.4L726.7 140.9L727.4 138.5L725.4 137.1L727.9 137.1ZM731.3 133.6L732.1 136.0L734.5 136.0L732.5 137.4L733.3 139.8L731.3 138.3L729.3 139.8L730.1 137.4L728.1 136.0L730.5 136.0ZM733.9 132.6L734.7 134.9L737.2 134.9L735.2 136.4L735.9 138.7L733.9 137.3L731.9 138.7L732.7 136.4L730.7 134.9L733.2 134.9ZM736.6 131.5L737.3 133.8L739.8 133.8L737.8 135.3L738.6 137.6L736.6 136.2L734.6 137.6L735.3 135.3L733.3 133.8L735.8 133.8ZM739.2 130.5L740.0 132.8L742.4 132.8L740.5 134.3L741.2 136.6L739.2 135.2L737.2 136.6L738.0 134.3L736.0 132.8L738.5 132.8ZM741.9 129.4L742.6 131.8L745.1 131.8L743.1 133.2L743.9 135.6L741.9 134.1L739.9 135.6L740.6 133.2L738.6 131.8L741.1 131.8ZM744.5 128.4L745.3 130.8L747.7 130.8L745.7 132.2L746.5 134.6L744.5 133.1L742.5 134.6L743.3 132.2L741.3 130.8L743.7 130.8ZM747.1 127.4L747.9 129.8L750.4 129.8L748.4 131.2L749.1 133.6L747.1 132.1L745.1 133.6L745.9 131.2L743.9 129.8L746.4 129.8ZM749.8 126.4L750.5 128.8L753.0 128.8L751.0 130.2L751.8 132.6L749.8 131.1L747.8 132.6L748.5 130.2L746.5 128.8L749.0 128.8ZM752.4 125.4L753.2 127.8L755.7 127.8L753.7 129.2L754.4 131.6L752.4 130.1L750.4 131.6L751.2 129.2L749.2 127.8L751.7 127.8ZM755.1 124.5L755.8 126.8L758.3 126.8L756.3 128.3L757.1 130.6L755.1 129.2L753.1 130.6L753.8 128.3L751.8 126.8L754.3 126.8ZM757.7 123.5L758.5 125.9L760.9 125.9L758.9 127.3L759.7 129.7L757.7 128.2L755.7 129.7L756.5 127.3L754.5 125.9L756.9 125.9ZM760.3 122.6L761.1 125.0L763.6 125.0L761.6 126.4L762.3 128.8L760.3 127.3L758.3 128.8L759.1 126.4L757.1 125.0L759.6 125.0ZM763.0 121.7L763.8 124.1L766.2 124.1L764.2 125.5L765.0 127.9L763.0 126.4L761.0 127.9L761.8 125.5L759.8 124.1L762.2 124.1ZM765.6 120.8L766.4 123.2L768.9 123.2L766.9 124.6L767.6 127.0L765.6 125.5L763.6 127.0L764.4 124.6L762.4 123.2L764.9 123.2ZM768.3 120.0L769.0 122.3L771.5 122.3L769.5 123.8L770.3 126.1L768.3 124.7L766.3 126.1L767.0 123.8L765.0 122.3L767.5 122.3ZM770.9 119.1L771.7 121.5L774.1 121.5L772.1 122.9L772.9 125.3L770.9 123.8L768.9 125.3L769.7 122.9L767.7 121.5L770.2 121.5ZM773.6 118.3L774.3 120.6L776.8 120.6L774.8 122.1L775.6 124.4L773.6 123.0L771.6 124.4L772.3 122.1L770.3 120.6L772.8 120.6ZM776.2 117.5L777.0 119.8L779.4 119.8L777.4 121.3L778.2 123.6L776.2 122.2L774.2 123.6L775.0 121.3L773.0 119.8L775.4 119.8ZM778.8 116.7L779.6 119.0L782.1 119.0L780.1 120.5L780.8 122.8L778.8 121.4L776.8 122.8L777.6 120.5L775.6 119.0L778.1 119.0ZM781.5 115.9L782.2 118.2L784.7 118.2L782.7 119.7L783.5 122.0L781.5 120.6L779.5 122.0L780.2 119.7L778.2 118.2L780.7 118.2ZM784.1 115.1L784.9 117.5L787.4 117.5L785.4 118.9L786.1 121.3L784.1 119.8L782.1 121.3L782.9 118.9L780.9 117.5L783.4 117.5ZM786.8 114.4L787.5 116.7L790.0 116.7L788.0 118.2L788.8 120.5L786.8 119.1L784.8 120.5L785.5 118.2L783.5 116.7L786.0 116.7ZM789.4 113.7L790.2 116.0L792.6 116.0L790.6 117.5L791.4 119.8L789.4 118.4L787.4 119.8L788.2 117.5L786.2 116.0L788.6 116.0ZM792.0 113.0L792.8 115.3L795.3 115.3L793.3 116.8L794.0 119.1L792.0 117.7L790.0 119.1L790.8 116.8L788.8 115.3L791.3 115.3ZM794.7 112.3L795.5 114.6L797.9 114.6L795.9 116.1L796.7 118.5L794.7 117.0L792.7 118.5L793.5 116.1L791.5 114.6L793.9 114.6ZM797.3 111.6L798.1 114.0L800.6 114.0L798.6 115.4L799.3 117.8L797.3 116.3L795.3 117.8L796.1 115.4L794.1 114.0L796.6 114.0ZM800.0 111.0L800.7 113.4L803.2 113.4L801.2 114.8L802.0 117.2L800.0 115.7L798.0 117.2L798.7 114.8L796.7 113.4L799.2 113.4ZM802.6 110.4L803.4 112.8L805.8 112.8L803.8 114.2L804.6 116.6L802.6 115.1L800.6 116.6L801.4 114.2L799.4 112.8L801.8 112.8ZM805.3 109.8L806.0 112.2L808.5 112.2L806.5 113.6L807.3 116.0L805.3 114.5L803.3 116.0L804.0 113.6L802.0 112.2L804.5 112.2ZM807.9 109.3L808.7 111.6L811.1 111.6L809.1 113.1L809.9 115.4L807.9 114.0L805.9 115.4L806.7 113.1L804.7 111.6L807.1 111.6ZM810.5 108.7L811.3 111.1L813.8 111.1L811.8 112.5L812.5 114.9L810.5 113.4L808.5 114.9L809.3 112.5L807.3 111.1L809.8 111.1ZM813.2 108.2L813.9 110.5L816.4 110.5L814.4 112.0L815.2 114.3L813.2 112.9L811.2 114.3L811.9 112.0L809.9 110.5L812.4 110.5ZM815.8 107.7L816.6 110.0L819.1 110.0L817.1 111.5L817.8 113.8L815.8 112.4L813.8 113.8L814.6 111.5L812.6 110.0L815.1 110.0Z" fill="none" stroke="#ff0" stroke-width="1"/>
<path d="M464.5 208.2L467.1 211.9L469.8 215.2L472.4 218.1L475.1 220.7L477.7 223.0L480.3 225.1L483.0 226.9L485.6 228.5L488.3 230.0L490.9 231.2L493.6 232.3L496.2 233.3L498.8 234.2L501.5 234.9L504.1 235.5L506.8 236.0L509.4 236.5L512.0 236.8L514.7 237.0L517.3 237.2L520.0 237.3L522.6 237.3L525.3 237.3L527.9 237.1L530.5 237.0L533.2 236.7L535.8 236.4L538.5 236.0L541.1 235.6L543.7 235.1L546.4 234.6L549.0 234.0L551.7 233.3L554.3 232.6L557.0 231.8L559.6 231.0L562.2 230.1L564.9 229.2L567.5 228.2L570.2 227.1L572.8 226.0L575.4 224.9L578.1 223.6L580.7 222.4L583.4 221.0L586.0 219.6L588.7 218.2L591.3 216.7L593.9 215.2L596.6 213.6L599.2 211.9L601.9 210.2L604.5 208.4L607.1 206.6L609.8 204.8L612.4 202.9L615.1 200.9L617.7 198.9L620.3 196.9L623.0 194.8L625.6 192.7L628.3 190.5L630.9 188.3L633.6 186.1L636.2 183.9L638.8 181.6L641.5 179.3L644.1 177.0L646.8 174.7L649.4 172.3L652.0 170.0L654.7 167.7L657.3 165.4L660.0 163.0L662.6 160.7L665.3 158.4L667.9 156.2L670.5 153.9L673.2 151.7L675.8 149.6L678.5 147.4L681.1 145.4L683.7 143.3L686.4 141.4L689.0 139.5L691.7 137.6L694.3 135.8L697.0 134.1L699.6 132.5L702.2 131.0L704.9 129.5L707.5 128.1L710.2 126.8L712.8 125.6L715.4 124.5L718.1 123.5L720.7 122.6L723.4 121.8L726.0 121.1L728.7 120.4L731.3 119.9L733.9 119.5L736.6 119.2L739.2 118.9L741.9 118.8L744.5 118.7L747.1 118.8L749.8 118.9L752.4 119.1L755.1 119.4L757.7 119.8L760.3 120.2L763.0 120.8L765.6 121.3L768.3 122.0L770.9 122.7L773.6 123.5L776.2 124.3L778.8 125.1L781.5 126.0L784.1 126.9L786.8 127.9L789.4 128.9L792.0 129.8L794.7 130.9L797.3 131.9L800.0 132.9L802.6 133.9L805.3 134.9L807.9 135.9L810.5 136.9L813.2 137.8L815.8 138.7" fill="none" stroke="#0f0" stroke-width="1" stroke-opacity="0.75"/>
<path d="M461.5 208.2h6.0M464.5 205.2v6.0M464.1 211.9h6.0M467.1 208.9v6.0M466.8 215.2h6.0M469.8 212.2v6.0M469.4 218.1h6.0M472.4 215.1v6.0M472.1 220.7h6.0M475.1 217.7v6.0M474.7 223.0h6.0M477.7 220.0v6.0M477.3 225.1h6.0M480.3 222.1v6.0M480.0 226.9h6.0M483.0 223.9v6.0M482.6 228.5h6.0M485.6 225.5v6.0M485.3 230.0h6.0M488.3 227.0v6.0M487.9 231.2h6.0M490.9 228.2v6.0M490.6 232.3h6.0M493.6 229.3v6.0M493.2 233.3h6.0M496.2 230.3v6.0M495.8 234.2h6.0M498.8 231.2v6.0M498.5 234.9h6.0M501.5 231.9v6.0M501.1 235.5h6.0M504.1 232.5v6.0M503.8 236.0h6.0M506.8 233.0v6.0M506.4 236.5h6.0M509.4 233.5v6.0M509.0 236.8h6.0M512.0 233.8v6.0M511.7 237.0h6.0M514.7 234.0v6.0M514.3 237.2h6.0M517.3 234.2v6.0M517.0 237.3h6.0M520.0 234.3v6.0M519.6 237.3h6.0M522.6 234.3v6.0M522.3 237.3h6.0M525.3 234.3v6.0M524.9 237.1h6.0M527.9 234.1v6.0M527.5 237.0h6.0M530.5 234.0v6.0M530.2 236.7h6.0M533.2 233.7v6.0M532.8 236.4h6.0M535.8 233.4v6.0M535.5 236.0h6.0M538.5 233.0v6.0M538.1 235.6h6.0M541.1 232.6v6.0M540.7 235.1h6.0M543.7 232.1v6.0M543.4 234.6h6.0M546.4 231.6v6.0M546.0 234.0h6.0M549.0 231.0v6.0M548.7 233.3h6.0M551.7 230.3v6.0M551.3 232.6h6.0M554.3 229.6v6.0M554.0 231.8h6.0M557.0 228.8v6.0M556.6 231.0h6.0M559.6 228.0v6.0M559.2 230.1h6.0M562.2 227.1v6.0M561.9 229.2h6.0M564.9 226.2v6.0M564.5 228.2h6.0M567.5 225.2v6.0M567.2 227.1h6.0M570.2 224.1v6.0M569.8 226.0h6.0M572.8 223.0v6.0M572.4 224.9h6.0M575.4 221.9v6.0M575.1 223.6h6.0M578.1 220.6v6.0M577.7 222.4h6.0M580.7 219.4v6.0M580.4 221.0h6.0M583.4 218.0v6.0M583.0 219.6h6.0M586.0 216.6v6.0M585.7 218.2h6.0M588.7 215.2v6.0M588.3 216.7h6.0M591.3 213.7v6.0M590.9 215.2h6.0M593.9 212.2v6.0M593.6 213.6h6.0M596.6 210.6v6.0M596.2 211.9h6.0M599.2 208.9v6.0M598.9 210.2h6.0M601.9 207.2v6.0M601.5 208.4h6.0M604.5 205.4v6.0M604.1 206.6h6.0M607.1 203.6v6.0M606.8 204.8h6.0M609.8 201.8v6.0M609.4 202.9h6.0M612.4 199.9v6.0M612.1 200.9h6.0M615.1 197.9v6.0M614.7 198.9h6.0M617.7 195.9v6.0M617.3 196.9h6.0M620.3 193.9v6.0M620.0 194.8h6.0M623.0 191.8v6.0M622.6 192.7h6.0M625.6 189.7v6.0M625.3 190.5h6.0M628.3 187.5v6.0M627.9 188.3h6.0M630.9 185.3v6.0M630.6 186.1h6.0M633.6 183.1v6.0M633.2 183.9h6.0M636.2 180.9v6.0M635.8 181.6h6.0M638.8 178.6v6.0M638.5 179.3h6.0M641.5 176.3v6.0M641.1 177.0h6.0M644.1 174.0v6.0M643.8 174.7h6.0M646.8 171.7v6.0M646.4 172.3h6.0M649.4 169.3v6.0M649.0 170.0h6.0M652.0 167.0v6.0M651.7 167.7h6.0M654.7 164.7v6.0M654.3 165.4h6.0M657.3 162.4v6.0M657.0 163.0h6.0M660.0 160.0v6.0M659.6 160.7h6.0M662.6 157.7v6.0M662.3 158.4h6.0M665.3 155.4v6.0M664.9 156.2h6.0M667.9 153.2v6.0M667.5 153.9h6.0M670.5 150.9v6.0M670.2 151.7h6.0M673.2 148.7v6.0M672.8 149.6h6.0M675.8 146.6v6.0M675.5 147.4h6.0M678.5 144.4v6.0M678.1 145.4h6.0M681.1 142.4v6.0M680.7 143.3h6.0M683.7 140.3v6.0M683.4 141.4h6.0M686.4 138.4v6.0M686.0 139.5h6.0M689.0 136.5v6.0M688.7 137.6h6.0M691.7 134.6v6.0M691.3 135.8h6.0M694.3 132.8v6.0M694.0 134.1h6.0M697.0 131.1v6.0M696.6 132.5h6.0M699.6 129.5v6.0M699.2 131.0h6.0M702.2 128.0v6.0M701.9 129.5h6.0M704.9 126.5v6.0M704.5 128.1h6.0M707.5 125.1v6.0M707.2 126.8h6.0M710.2 123.8v6.0M709.8 125.6h6.0M712.8 122.6v6.0M712.4 124.5h6.0M715.4 121.5v6.0M715.1 123.5h6.0M718.1 120.5v6.0M717.7 122.6h6.0M720.7 119.6v6.0M720.4 121.8h6.0M723.4 118.8v6.0M723.0 121.1h6.0M726.0 118.1v6.0M725.7 120.4h6.0M728.7 117.4v6.0M728.3 119.9h6.0M731.3 116.9v6.0M730.9 119.5h6.0M733.9 116.5v6.0M733.6 119.2h6.0M736.6 116.2v6.0M736.2 118.9h6.0M739.2 115.9v6.0M738.9 118.8h6.0M741.9 115.8v6.0M741.5 118.7h6.0M744.5 115.7v6.0M744.1 118.8h6.0M747.1 115.8v6.0M746.8 118.9h6.0M749.8 115.9v6.0M749.4 119.1h6.0M752.4 116.1v6.0M752.1 119.4h6.0M755.1 116.4v6.0M754.7 119.8h6.0M757.7 116.8v6.0M757.3 120.2h6.0M760.3 117.2v6.0M760.0 120.8h6.0M763.0 117.8v6.0M762.6 121.3h6.0M765.6 118.3v6.0M765.3 122.0h6.0M768.3 119.0v6.0M767.9 122.7h6.0M770.9 119.7v6.0M770.6 123.5h6.0M773.6 120.5v6.0M773.2 124.3h6.0M776.2 121.3v6.0M775.8 125.1h6.0M778.8 122.1v6.0M778.5 126.0h6.0M781.5 123.0v6.0M781.1 126.9h6.0M784.1 123.9v6.0M783.8 127.9h6.0M786.8 124.9v6.0M786.4 128.9h6.0M789.4 125.9v6.0M789.0 129.8h6.0M792.0 126.8v6.0M791.7 130.9h6.0M794.7 127.9v6.0M794.3 131.9h6.0M797.3 128.9v6.0M797.0 132.9h6.0M800.0 129.9v6.0M799.6 133.9h6.0M802.6 130.9v6.0M802.3 134.9h6.0M805.3 131.9v6.0M804.9 135.9h6.0M807.9 132.9v6.0M807.5 136.9h6.0M810.5 133.9v6.0M810.2 137.8h6.0M813.2 134.8v6.0M812.8 138.7h6.0M815.8 135.7v6.0" fill="none" stroke="#0f0" stroke-width="0.8"/>
<path d="M464.5 213.4L467.1 221.3L469.8 226.5L472.4 229.9L475.1 232.0L477.7 233.2L480.3 233.6L483.0 233.5L485.6 233.0L488.3 232.2L490.9 231.2L493.6 230.1L496.2 228.8L498.8 227.6L501.5 226.4L504.1 225.3L506.8 224.3L509.4 223.5L512.0 222.9L514.7 222.4L517.3 222.2L520.0 222.2L522.6 222.4L525.3 222.8L527.9 223.3L530.5 224.0L533.2 224.8L535.8 225.6L538.5 226.6L541.1 227.6L543.7 228.5L546.4 229.5L549.0 230.5L551.7 231.4L554.3 232.2L557.0 233.0L559.6 233.6L562.2 234.2L564.9 234.7L567.5 235.0L570.2 235.3L572.8 235.4L575.4 235.3L578.1 235.2L580.7 234.9L583.4 234.4L586.0 233.8L588.7 233.1L591.3 232.1L593.9 231.1L596.6 229.8L599.2 228.4L601.9 226.8L604.5 225.0L607.1 223.0L609.8 220.8L612.4 218.4L615.1 215.8L617.7 213.0L620.3 210.0L623.0 206.8L625.6 203.4L628.3 199.9L630.9 196.1L633.6 192.2L636.2 188.1L638.8 183.9L641.5 179.6L644.1 175.3L646.8 170.8L649.4 166.4L652.0 162.0L654.7 157.6L657.3 153.3L660.0 149.1L662.6 145.1L665.3 141.3L667.9 137.8L670.5 134.5L673.2 131.4L675.8 128.7L678.5 126.3L681.1 124.2L683.7 122.5L686.4 121.1L689.0 120.0L691.7 119.3L694.3 118.8L697.0 118.7L699.6 118.8L702.2 119.1L704.9 119.7L707.5 120.4L710.2 121.3L712.8 122.3L715.4 123.3L718.1 124.4L720.7 125.6L723.4 126.7L726.0 127.9L728.7 128.9L731.3 129.9L733.9 130.8L736.6 131.6L739.2 132.3L741.9 132.9L744.5 133.3L747.1 133.5L749.8 133.7L752.4 133.7L755.1 133.5L757.7 133.2L760.3 132.8L763.0 132.3L765.6 131.6L768.3 130.9L770.9 130.2L773.6 129.4L776.2 128.6L778.8 127.8L781.5 127.1L784.1 126.5L786.8 126.0L789.4 125.6L792.0 125.4L794.7 125.4L797.3 125.7L800.0 126.1L802.6 126.8L805.3 127.8L807.9 128.9L810.5 130.2L813.2 131.6L815.8 133.1" fill="none" stroke="#000" stroke-width="1" stroke-opacity="0.75"/>
<path d="M461.8 213.4h5.4M464.5 210.2v6.4M462.6 211.5l3.8 3.8M462.6 215.3l3.8 -3.8M464.4 221.3h5.4M467.1 218.1v6.4M465.2 219.4l3.8 3.8M465.2 223.2l3.8 -3.8M467.1 226.5h5.4M469.8 223.3v6.4M467.9 224.6l3.8 3.8M467.9 228.4l3.8 -3.8M469.7 229.9h5.4M472.4 226.7v6.4M470.5 228.0l3.8 3.8M470.5 231.8l3.8 -3.8M472.4 232.0h5.4M475.1 228.8v6.4M473.2 230.1l3.8 3.8M473.2 233.9l3.8 -3.8M475.0 233.2h5.4M477.7 230.0v6.4M475.8 231.3l3.8 3.8M475.8 235.1l3.8 -3.8M477.6 233.6h5.4M480.3 230.4v6.4M478.4 231.7l3.8 3.8M478.4 235.5l3.8 -3.8M480.3 233.5h5.4M483.0 230.3v6.4M481.1 231.6l3.8 3.8M481.1 235.4l3.8 -3.8M482.9 233.0h5.4M485.6 229.8v6.4M483.7 231.1l3.8 3.8M483.7 234.9l3.8 -3.8M485.6 232.2h5.4M488.3 229.0v6.4M486.4 230.3l3.8 3.8M486.4 234.1l3.8 -3.8M488.2 231.2h5.4M490.9 228.0v6.4M489.0 229.3l3.8 3.8M489.0 233.1l3.8 -3.8M490.9 230.1h5.4M493.6 226.9v6.4M491.7 228.2l3.8 3.8M491.7 232.0l3.8 -3.8M493.5 228.8h5.4M496.2 225.6v6.4M494.3 226.9l3.8 3.8M494.3 230.7l3.8 -3.8M496.1 227.6h5.4M498.8 224.4v6.4M496.9 225.7l3.8 3.8M496.9 229.5l3.8 -3.8M498.8 226.4h5.4M501.5 223.2v6.4M499.6 224.5l3.8 3.8M499.6 228.3l3.8 -3.8M501.4 225.3h5.4M504.1 222.1v6.4M502.2 223.4l3.8 3.8M502.2 227.2l3.8 -3.8M504.1 224.3h5.4M506.8 221.1v6.4M504.9 222.4l3.8 3.8M504.9 226.2l3.8 -3.8M506.7 223.5h5.4M509.4 220.3v6.4M507.5 221.6l3.8 3.8M507.5 225.4l3.8 -3.8M509.3 222.9h5.4M512.0 219.7v6.4M510.1 221.0l3.8 3.8M510.1 224.8l3.8 -3.8M512.0 222.4h5.4M514.7 219.2v6.4M512.8 220.5l3.8 3.8M512.8 224.3l3.8 -3.8M514.6 222.2h5.4M517.3 219.0v6.4M515.4 220.3l3.8 3.8M515.4 224.1l3.8 -3.8M517.3 222.2h5.4M520.0 219.0v6.4M518.1 220.3l3.8 3.8M518.1 224.1l3.8 -3.8M519.9 222.4h5.4M522.6 219.2v6.4M520.7 220.5l3.8 3.8M520.7 224.3l3.8 -3.8M522.6 222.8h5.4M525.3 219.6v6.4M523.4 220.9l3.8 3.8M523.4 224.7l3.8 -3.8M525.2 223.3h5.4M527.9 220.1v6.4M526.0 221.4l3.8 3.8M526.0 225.2l3.8 -3.8M527.8 224.0h5.4M530.5 220.8v6.4M528.6 222.1l3.8 3.8M528.6 225.9l3.8 -3.8M530.5 224.8h5.4M533.2 221.6v6.4M531.3 222.9l3.8 3.8M531.3 226.7l3.8 -3.8M533.1 225.6h5.4M535.8 222.4v6.4M533.9 223.7l3.8 3.8M533.9 227.5l3.8 -3.8M535.8 226.6h5.4M538.5 223.4v6.4M536.6 224.7l3.8 3.8M536.6 228.5l3.8 -3.8M538.4 227.6h5.4M541.1 224.4v6.4M539.2 225.7l3.8 3.8M539.2 229.5l3.8 -3.8M541.0 228.5h5.4M543.7 225.3v6.4M541.8 226.6l3.8 3.8M541.8 230.4l3.8 -3.8M543.7 229.5h5.4M546.4 226.3v6.4M544.5 227.6l3.8 3.8M544.5 231.4l3.8 -3.8M546.3 230.5h5.4M549.0 227.3v6.4M547.1 228.6l3.8 3.8M547.1 232.4l3.8 -3.8M549.0 231.4h5.4M551.7 228.2v6.4M549.8 229.5l3.8 3.8M549.8 233.3l3.8 -3.8M551.6 232.2h5.4M554.3 229.0v6.4M552.4 230.3l3.8 3.8M552.4 234.1l3.8 -3.8M554.3 233.0h5.4M557.0 229.8v6.4M555.1 231.1l3.8 3.8M555.1 234.9l3.8 -3.8M556.9 233.6h5.4M559.6 230.4v6.4M557.7 231.7l3.8 3.8M557.7 235.5l3.8 -3.8M559.5 234.2h5.4M562.2 231.0v6.4M560.3 232.3l3.8 3.8M560.3 236.1l3.8 -3.8M562.2 234.7h5.4M564.9 231.5v6.4M563.0 232.8l3.8 3.8M563.0 236.6l3.8 -3.8M564.8 235.0h5.4M567.5 231.8v6.4M565.6 233.1l3.8 3.8M565.6 236.9l3.8 -3.8M567.5 235.3h5.4M570.2 232.1v6.4M568.3 233.4l3.8 3.8M568.3 237.2l3.8 -3.8M570.1 235.4h5.4M572.8 232.2v6.4M570.9 233.5l3.8 3.8M570.9 237.3l3.8 -3.8M572.7 235.3h5.4M575.4 232.1v6.4M573.5 233.4l3.8 3.8M573.5 237.2l3.8 -3.8M575.4 235.2h5.4M578.1 232.0v6.4M576.2 233.3l3.8 3.8M576.2 237.1l3.8 -3.8M578.0 234.9h5.4M580.7 231.7v6.4M578.8 233.0l3.8 3.8M578.8 236.8l3.8 -3.8M580.7 234.4h5.4M583.4 231.2v6.4M581.5 232.5l3.8 3.8M581.5 236.3l3.8 -3.8M583.3 233.8h5.4M586.0 230.6v6.4M584.1 231.9l3.8 3.8M584.1 235.7l3.8 -3.8M586.0 233.1h5.4M588.7 229.9v6.4M586.8 231.2l3.8 3.8M586.8 235.0l3.8 -3.8M588.6 232.1h5.4M591.3 228.9v6.4M589.4 230.2l3.8 3.8M589.4 234.0l3.8 -3.8M591.2 231.1h5.4M593.9 227.9v6.4M592.0 229.2l3.8 3.8M592.0 233.0l3.8 -3.8M593.9 229.8h5.4M596.6 226.6v6.4M594.7 227.9l3.8 3.8M594.7 231.7l3.8 -3.8M596.5 228.4h5.4M599.2 225.2v6.4M597.3 226.5l3.8 3.8M597.3 230.3l3.8 -3.8M599.2 226.8h5.4M601.9 223.6v6.4M600.0 224.9l3.8 3.8M600.0 228.7l3.8 -3.8M601.8 225.0h5.4M604.5 221.8v6.4M602.6 223.1l3.8 3.8M602.6 226.9l3.8 -3.8M604.4 223.0h5.4M607.1 219.8v6.4M605.2 221.1l3.8 3.8M605.2 224.9l3.8 -3.8M607.1 220.8h5.4M609.8 217.6v6.4M607.9 218.9l3.8 3.8M607.9 222.7l3.8 -3.8M609.7 218.4h5.4M612.4 215.2v6.4M610.5 216.5l3.8 3.8M610.5 220.3l3.8 -3.8M612.4 215.8h5.4M615.1 212.6v6.4M613.2 213.9l3.8 3.8M613.2 217.7l3.8 -3.8M615.0 213.0h5.4M617.7 209.8v6.4M615.8 211.1l3.8 3.8M615.8 214.9l3.8 -3.8M617.6 210.0h5.4M620.3 206.8v6.4M618.4 208.1l3.8 3.8M618.4 211.9l3.8 -3.8M620.3 206.8h5.4M623.0 203.6v6.4M621.1 204.9l3.8 3.8M621.1 208.7l3.8 -3.8M622.9 203.4h5.4M625.6 200.2v6.4M623.7 201.5l3.8 3.8M623.7 205.3l3.8 -3.8M625.6 199.9h5.4M628.3 196.7v6.4M626.4 198.0l3.8 3.8M626.4 201.8l3.8 -3.8M628.2 196.1h5.4M630.9 192.9v6.4M629.0 194.2l3.8 3.8M629.0 198.0l3.8 -3.8M630.9 192.2h5.4M633.6 189.0v6.4M631.7 190.3l3.8 3.8M631.7 194.1l3.8 -3.8M633.5 188.1h5.4M636.2 184.9v6.4M634.3 186.2l3.8 3.8M634.3 190.0l3.8 -3.8M636.1 183.9h5.4M638.8 180.7v6.4M636.9 182.0l3.8 3.8M636.9 185.8l3.8 -3.8M638.8 179.6h5.4M641.5 176.4v6.4M639.6 177.7l3.8 3.8M639.6 181.5l3.8 -3.8M641.4 175.3h5.4M644.1 172.1v6.4M642.2 173.4l3.8 3.8M642.2 177.2l3.8 -3.8M644.1 170.8h5.4M646.8 167.6v6.4M644.9 168.9l3.8 3.8M644.9 172.7l3.8 -3.8M646.7 166.4h5.4M649.4 163.2v6.4M647.5 164.5l3.8 3.8M647.5 168.3l3.8 -3.8M649.3 162.0h5.4M652.0 158.8v6.4M650.1 160.1l3.8 3.8M650.1 163.9l3.8 -3.8M652.0 157.6h5.4M654.7 154.4v6.4M652.8 155.7l3.8 3.8M652.8 159.5l3.8 -3.8M654.6 153.3h5.4M657.3 150.1v6.4M655.4 151.4l3.8 3.8M655.4 155.2l3.8 -3.8M657.3 149.1h5.4M660.0 145.9v6.4M658.1 147.2l3.8 3.8M658.1 151.0l3.8 -3.8M659.9 145.1h5.4M662.6 141.9v6.4M660.7 143.2l3.8 3.8M660.7 147.0l3.8 -3.8M662.6 141.3h5.4M665.3 138.1v6.4M663.4 139.4l3.8 3.8M663.4 143.2l3.8 -3.8M665.2 137.8h5.4M667.9 134.6v6.4M666.0 135.9l3.8 3.8M666.0 139.7l3.8 -3.8M667.8 134.5h5.4M670.5 131.3v6.4M668.6 132.6l3.8 3.8M668.6 136.4l3.8 -3.8M670.5 131.4h5.4M673.2 128.2v6.4M671.3 129.5l3.8 3.8M671.3 133.3l3.8 -3.8M673.1 128.7h5.4M675.8 125.5v6.4M673.9 126.8l3.8 3.8M673.9 130.6l3.8 -3.8M675.8 126.3h5.4M678.5 123.1v6.4M676.6 124.4l3.8 3.8M676.6 128.2l3.8 -3.8M678.4 124.2h5.4M681.1 121.0v6.4M679.2 122.3l3.8 3.8M679.2 126.1l3.8 -3.8M681.0 122.5h5.4M683.7 119.3v6.4M681.8 120.6l3.8 3.8M681.8 124.4l3.8 -3.8M683.7 121.1h5.4M686.4 117.9v6.4M684.5 119.2l3.8 3.8M684.5 123.0l3.8 -3.8M686.3 120.0h5.4M689.0 116.8v6.4M687.1 118.1l3.8 3.8M687.1 121.9l3.8 -3.8M689.0 119.3h5.4M691.7 116.1v6.4M689.8 117.4l3.8 3.8M689.8 121.2l3.8 -3.8M691.6 118.8h5.4M694.3 115.6v6.4M692.4 116.9l3.8 3.8M692.4 120.7l3.8 -3.8M694.3 118.7h5.4M697.0 115.5v6.4M695.1 116.8l3.8 3.8M695.1 120.6l3.8 -3.8M696.9 118.8h5.4M699.6 115.6v6.4M697.7 116.9l3.8 3.8M697.7 120.7l3.8 -3.8M699.5 119.1h5.4M702.2 115.9v6.4M700.3 117.2l3.8 3.8M700.3 121.0l3.8 -3.8M702.2 119.7h5.4M704.9 116.5v6.4M703.0 117.8l3.8 3.8M703.0 121.6l3.8 -3.8M704.8 120.4h5.4M707.5 117.2v6.4M705.6 118.5l3.8 3.8M705.6 122.3l3.8 -3.8M707.5 121.3h5.4M710.2 118.1v6.4M708.3 119.4l3.8 3.8M708.3 123.2l3.8 -3.8M710.1 122.3h5.4M712.8 119.1v6.4M710.9 120.4l3.8 3.8M710.9 124.2l3.8 -3.8M712.7 123.3h5.4M715.4 120.1v6.4M713.5 121.4l3.8 3.8M713.5 125.2l3.8 -3.8M715.4 124.4h5.4M718.1 121.2v6.4M716.2 122.5l3.8 3.8M716.2 126.3l3.8 -3.8M718.0 125.6h5.4M720.7 122.4v6.4M718.8 123.7l3.8 3.8M718.8 127.5l3.8 -3.8M720.7 126.7h5.4M723.4 123.5v6.4M721.5 124.8l3.8 3.8M721.5 128.6l3.8 -3.8M723.3 127.9h5.4M726.0 124.7v6.4M724.1 126.0l3.8 3.8M724.1 129.8l3.8 -3.8M726.0 128.9h5.4M728.7 125.7v6.4M726.8 127.0l3.8 3.8M726.8 130.8l3.8 -3.8M728.6 129.9h5.4M731.3 126.7v6.4M729.4 128.0l3.8 3.8M729.4 131.8l3.8 -3.8M731.2 130.8h5.4M733.9 127.6v6.4M732.0 128.9l3.8 3.8M732.0 132.7l3.8 -3.8M733.9 131.6h5.4M736.6 128.4v6.4M734.7 129.7l3.8 3.8M734.7 133.5l3.8 -3.8M736.5 132.3h5.4M739.2 129.1v6.4M737.3 130.4l3.8 3.8M737.3 134.2l3.8 -3.8M739.2 132.9h5.4M741.9 129.7v6.4M740.0 131.0l3.8 3.8M740.0 134.8l3.8 -3.8M741.8 133.3h5.4M744.5 130.1v6.4M742.6 131.4l3.8 3.8M742.6 135.2l3.8 -3.8M744.4 133.5h5.4M747.1 130.3v6.4M745.2 131.6l3.8 3.8M745.2 135.4l3.8 -3.8M747.1 133.7h5.4M749.8 130.5v6.4M747.9 131.8l3.8 3.8M747.9 135.6l3.8 -3.8M749.7 133.7h5.4M752.4 130.5v6.4M750.5 131.8l3.8 3.8M750.5 135.6l3.8 -3.8M752.4 133.5h5.4M755.1 130.3v6.4M753.2 131.6l3.8 3.8M753.2 135.4l3.8 -3.8M755.0 133.2h5.4M757.7 130.0v6.4M755.8 131.3l3.8 3.8M755.8 135.1l3.8 -3.8M757.6 132.8h5.4M760.3 129.6v6.4M758.4 130.9l3.8 3.8M758.4 134.7l3.8 -3.8M760.3 132.3h5.4M763.0 129.1v6.4M761.1 130.4l3.8 3.8M761.1 134.2l3.8 -3.8M762.9 131.6h5.4M765.6 128.4v6.4M763.7 129.7l3.8 3.8M763.7 133.5l3.8 -3.8M765.6 130.9h5.4M768.3 127.7v6.4M766.4 129.0l3.8 3.8M766.4 132.8l3.8 -3.8M768.2 130.2h5.4M770.9 127.0v6.4M769.0 128.3l3.8 3.8M769.0 132.1l3.8 -3.8M770.9 129.4h5.4M773.6 126.2v6.4M771.7 127.5l3.8 3.8M771.7 131.3l3.8 -3.8M773.5 128.6h5.4M776.2 125.4v6.4M774.3 126.7l3.8 3.8M774.3 130.5l3.8 -3.8M776.1 127.8h5.4M778.8 124.6v6.4M776.9 125.9l3.8 3.8M776.9 129.7l3.8 -3.8M778.8 127.1h5.4M781.5 123.9v6.4M779.6 125.2l3.8 3.8M779.6 129.0l3.8 -3.8M781.4 126.5h5.4M784.1 123.3v6.4M782.2 124.6l3.8 3.8M782.2 128.4l3.8 -3.8M784.1 126.0h5.4M786.8 122.8v6.4M784.9 124.1l3.8 3.8M784.9 127.9l3.8 -3.8M786.7 125.6h5.4M789.4 122.4v6.4M787.5 123.7l3.8 3.8M787.5 127.5l3.8 -3.8M789.3 125.4h5.4M792.0 122.2v6.4M790.1 123.5l3.8 3.8M790.1 127.3l3.8 -3.8M792.0 125.4h5.4M794.7 122.2v6.4M792.8 123.5l3.8 3.8M792.8 127.3l3.8 -3.8M794.6 125.7h5.4M797.3 122.5v6.4M795.4 123.8l3.8 3.8M795.4 127.6l3.8 -3.8M797.3 126.1h5.4M800.0 122.9v6.4M798.1 124.2l3.8 3.8M798.1 128.0l3.8 -3.8M799.9 126.8h5.4M802.6 123.6v6.4M800.7 124.9l3.8 3.8M800.7 128.7l3.8 -3.8M802.6 127.8h5.4M805.3 124.6v6.4M803.4 125.9l3.8 3.8M803.4 129.7l3.8 -3.8M805.2 128.9h5.4M807.9 125.7v6.4M806.0 127.0l3.8 3.8M806.0 130.8l3.8 -3.8M807.8 130.2h5.4M810.5 127.0v6.4M808.6 128.3l3.8 3.8M808.6 132.1l3.8 -3.8M810.5 131.6h5.4M813.2 128.4v6.4M811.3 129.7l3.8 3.8M811.3 133.5l3.8 -3.8M813.1 133.1h5.4M815.8 129.9v6.4M813.9 131.2l3.8 3.8M813.9 135.0l3.8 -3.8" fill="none" stroke="#000" stroke-width="0.9"/>
</g>
<g stroke="#505050" stroke-width="1" fill="none"><path d="M464.1 0.5H816.7V277.5H464.1Z"/><path d="M499.7 277.5v-4M499.7 0.5v4M534.9 277.5v-4M534.9 0.5v4M570.2 277.5v-4M570.2 0.5v4M605.4 277.5v-4M605.4 0.5v4M640.6 277.5v-4M640.6 0.5v4M675.8 277.5v-4M675.8 0.5v4M711.0 277.5v-4M711.0 0.5v4M746.3 277.5v-4M746.3 0.5v4M781.5 277.5v-4M781.5 0.5v4M464.1 238.5h4M816.7 238.5h-4.3M464.1 198.5h4M816.7 198.5h-4.3M464.1 158.5h4M816.7 158.5h-4.3M464.1 118.5h4M816.7 118.5h-4.3M464.1 79.5h4M816.7 79.5h-4.3M464.1 39.5h4M816.7 39.5h-4.3"/></g>
<g font-family="Liberation Sans, Arial, sans-serif" font-size="10px" fill="#000" stroke="#000" stroke-width="0.25"><text x="463.4" y="290" text-anchor="middle">-1</text><text x="498.6" y="290" text-anchor="middle">-0.8</text><text x="533.8" y="290" text-anchor="middle">-0.6</text><text x="569.1" y="290" text-anchor="middle">-0.4</text><text x="604.3" y="290" text-anchor="middle">-0.2</text><text x="640.6" y="290" text-anchor="middle">0</text><text x="675.8" y="290" text-anchor="middle">0.2</text><text x="711.0" y="290" text-anchor="middle">0.4</text><text x="746.3" y="290" text-anchor="middle">0.6</text><text x="781.5" y="290" text-anchor="middle">0.8</text><text x="816.7" y="290" text-anchor="middle">1</text><text x="460.3" y="281.1" text-anchor="end">0</text><text x="460.3" y="242.1" text-anchor="end">0.2</text><text x="460.3" y="202.1" text-anchor="end">0.4</text><text x="460.3" y="162.1" text-anchor="end">0.6</text><text x="460.3" y="122.1" text-anchor="end">0.8</text><text x="460.3" y="83.1" text-anchor="end">1</text><text x="460.3" y="43.1" text-anchor="end">1.2</text><text x="640.6" y="303.2" text-anchor="middle" font-style="italic">x</text><text transform="translate(431.6 140.0) rotate(-90)" text-anchor="middle"><tspan font-style="italic">f</tspan>(<tspan font-style="italic">x</tspan>)</text></g>
<rect x="472.5" y="7.5" width="151.0" height="64.0" fill="#fff" stroke="#505050" stroke-width="1"/>
<path d="M479 16.5H512" stroke="#f00" stroke-width="1" stroke-opacity="0.75" fill="none"/><text x="515" y="20.6" font-family="Liberation Sans, Arial, sans-serif" font-size="10.3px" style="word-spacing:2.0px" fill="#000" stroke="#000" stroke-width="0.3">Exact pdf</text>
<path d="M479 31.5H512" stroke="#ff0" stroke-width="1" stroke-opacity="0.75" fill="none"/><path d="M495.5 28.1L496.3 30.4L498.7 30.4L496.7 31.9L497.5 34.3L495.5 32.8L493.5 34.3L494.3 31.9L492.3 30.4L494.7 30.4Z" stroke="#ff0" stroke-width="1" fill="none"/><text x="515" y="35.6" font-family="Liberation Sans, Arial, sans-serif" font-size="10.3px" style="word-spacing:2.0px" fill="#000" stroke="#000" stroke-width="0.3">Classic method (m=2)</text>
<path d="M479 46.5H512" stroke="#0f0" stroke-width="1" stroke-opacity="0.75" fill="none"/><path d="M492.5 46.5h6.0M495.5 43.5v6.0" stroke="#0f0" stroke-width="1" fill="none"/><text x="515" y="50.6" font-family="Liberation Sans, Arial, sans-serif" font-size="10.3px" style="word-spacing:2.0px" fill="#000" stroke="#000" stroke-width="0.3">Classic method (m=4)</text>
<path d="M479 61.5H512" stroke="#000" stroke-width="1" stroke-opacity="0.75" fill="none"/><path d="M492.8 61.5h5.4M495.5 58.3v6.4M493.6 59.6l3.8 3.8M493.6 63.4l3.8 -3.8" stroke="#000" stroke-width="1" fill="none"/><text x="515" y="65.6" font-family="Liberation Sans, Arial, sans-serif" font-size="10.3px" style="word-spacing:2.0px" fill="#000" stroke="#000" stroke-width="0.3">Classic method (m=8)</text>
<g font-family="Liberation Serif, Times New Roman, serif" font-size="19.5px" fill="#000"><text x="35" y="329.5">(a) The results obtained by proposed method</text><text x="465.3" y="329.5">(b) The results obtained by Classic method</text></g>
</svg>
</body></html>
